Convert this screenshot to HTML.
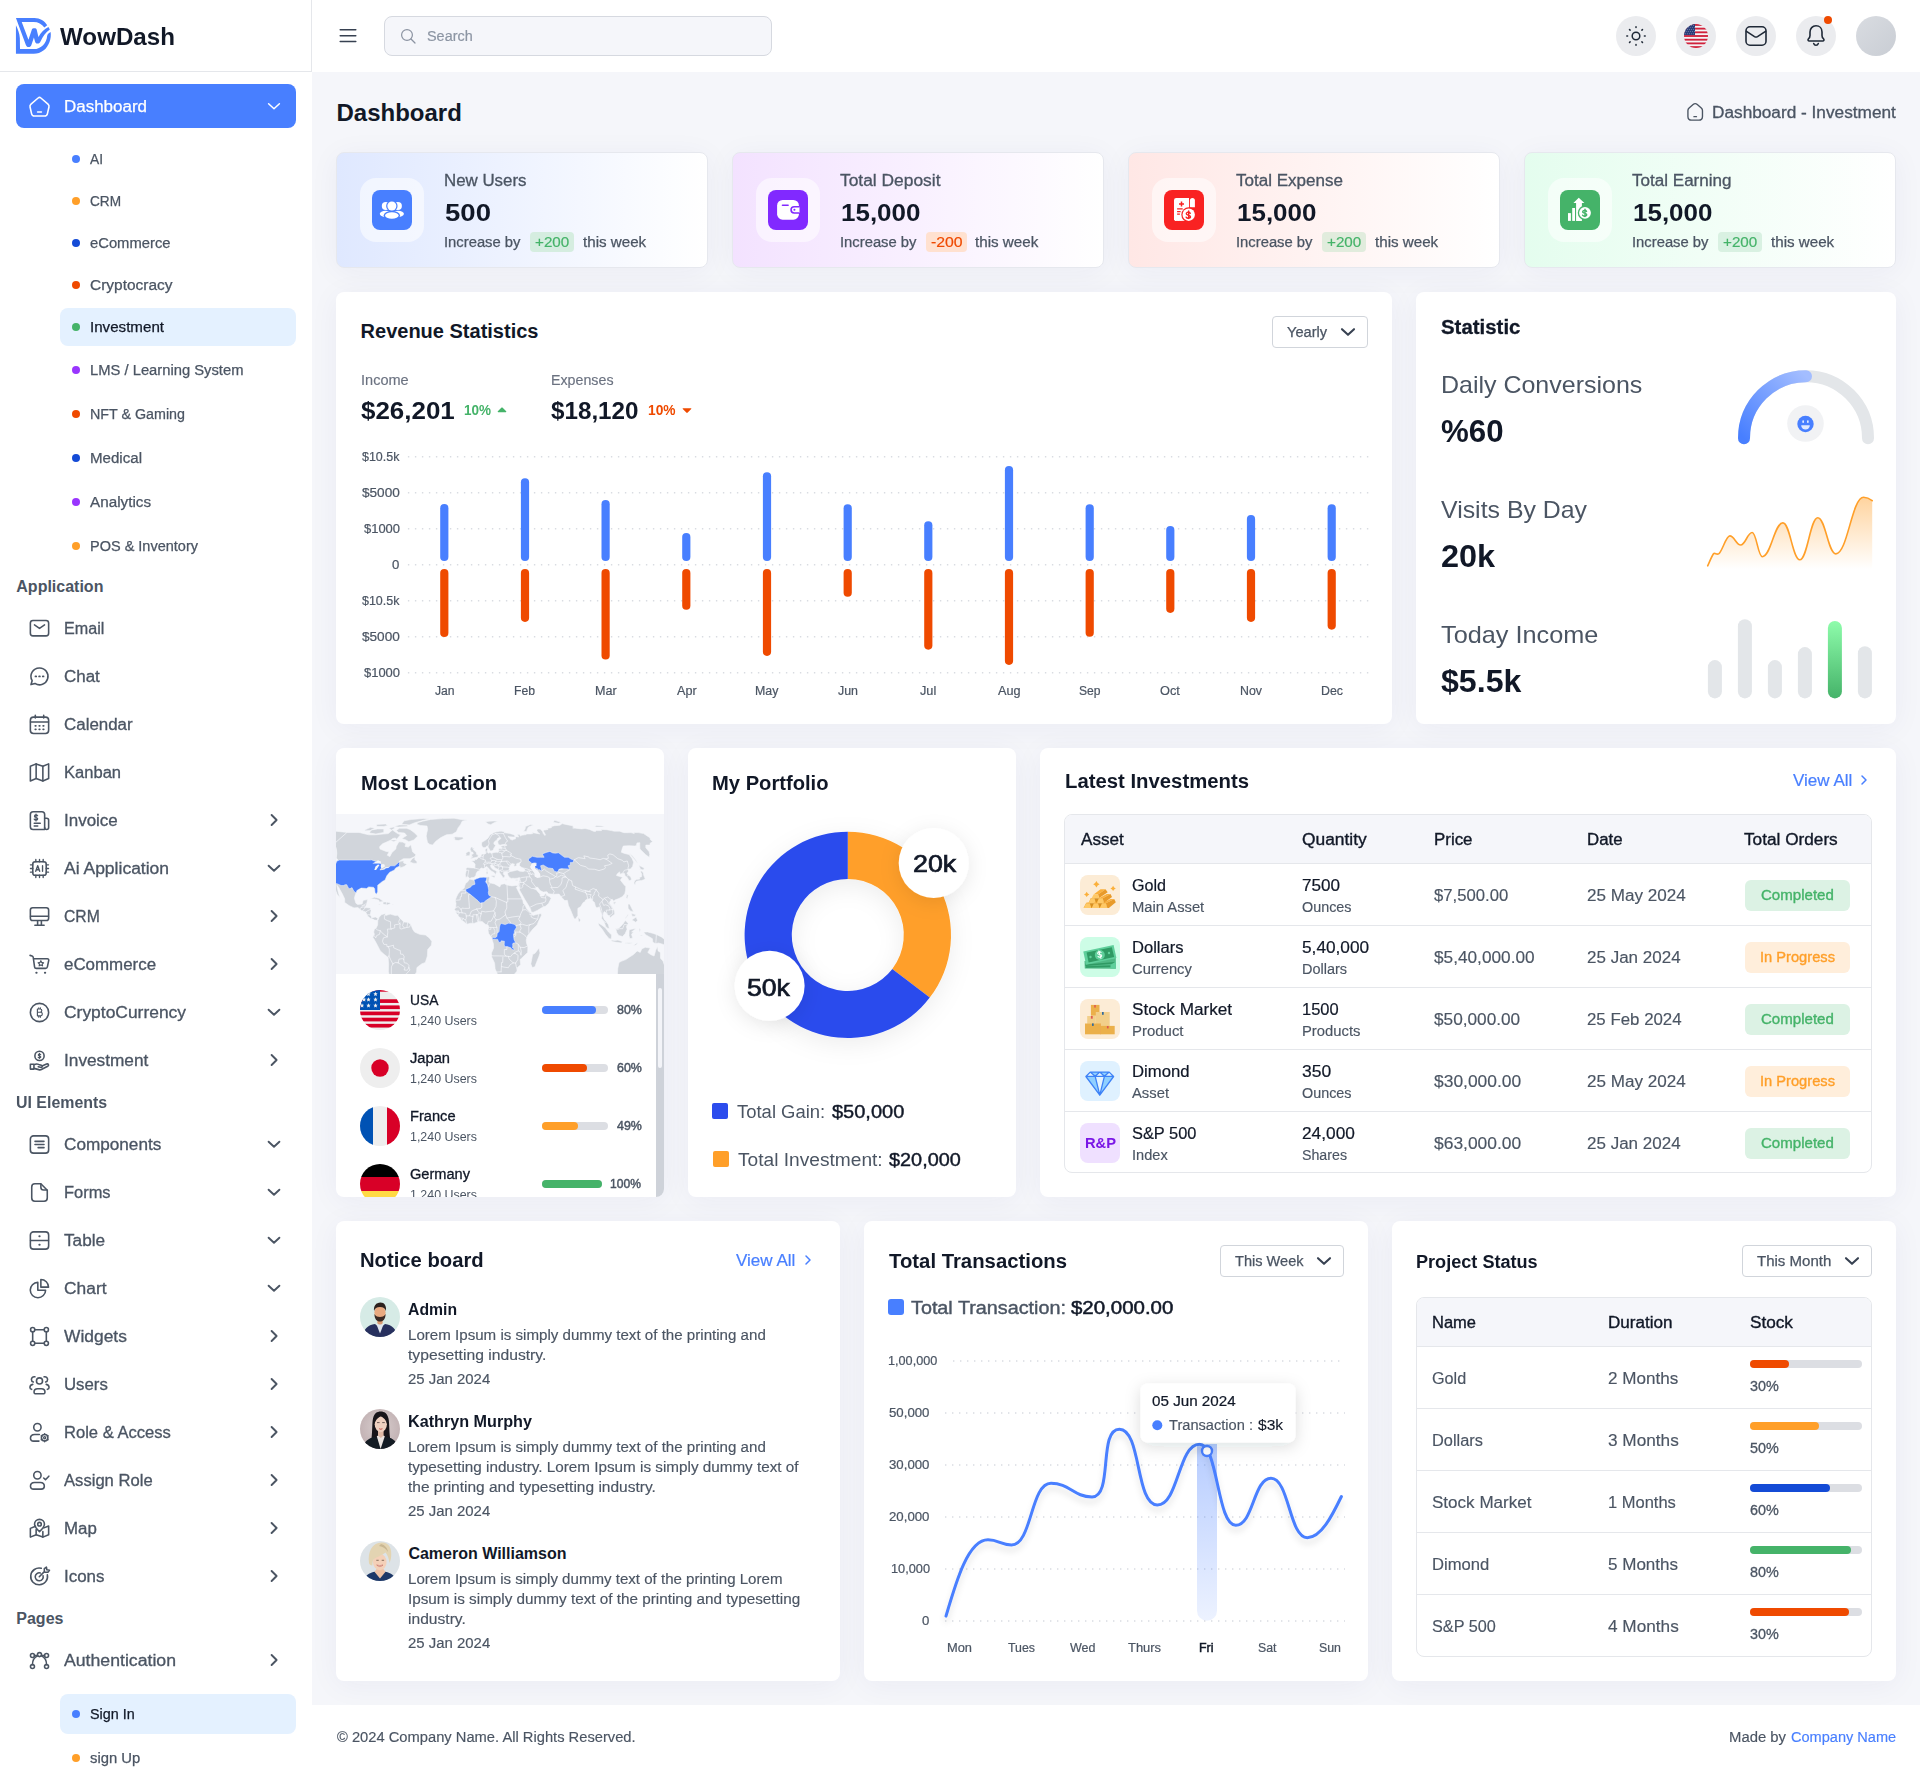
<!DOCTYPE html>
<html lang="en"><head><meta charset="utf-8"><title>WowDash - Investment Dashboard</title>
<meta name="viewport" content="width=1920">
<style>
*{box-sizing:border-box;margin:0;padding:0}
html,body{width:1920px;height:1769px;overflow:hidden}
body{font-family:"Liberation Sans",sans-serif;background:#f5f6fa;color:#4b5563;position:relative;font-size:16px;-webkit-font-smoothing:antialiased}
.t{position:absolute;white-space:nowrap;display:block}
.abs{position:absolute}
.card{position:absolute;background:#fff;border-radius:8px;box-shadow:0 4px 30px rgba(46,45,116,0.05)}
svg{position:absolute;overflow:visible}
.ic{fill:none;stroke:#4b5563;stroke-width:1.5;stroke-linecap:round;stroke-linejoin:round}
</style></head>
<body>
<!-- sidebar -->
<aside class="abs" style="left:0;top:0;width:312px;height:1769px;background:#fff"></aside><div class="abs" style="left:311px;top:0;width:1px;height:72px;background:#e5e7eb"></div>
<div class="abs" style="left:0;top:71px;width:312px;height:1px;background:#e5e7eb"></div>
<svg style="left:10px;top:10px" width="60" height="52" viewBox="0 0 1920 1664"><g fill="#487fff"><path d="M190 255L780 255C960 255 1110 350 1190 490L1100 560C1020 450 900 385 760 385L375 385L590 950L700 620C715 585 740 580 780 580C820 580 845 590 855 630L910 860C990 720 1100 610 1230 545L1275 620C1150 700 1050 830 980 1000C960 1050 930 1075 880 1075C830 1075 810 1050 800 1010L765 880L690 1100C670 1160 640 1185 595 1185C550 1185 525 1160 505 1110Z"/><path d="M190 490C250 620 310 760 315 900L320 1250L760 1250C1000 1250 1170 1050 1190 820C1200 770 1250 720 1300 700C1330 900 1250 1150 1080 1290C980 1370 880 1400 760 1400L190 1400Z"/></g></svg>
<span class="t " style="top:19.00px;font-size:24px;line-height:36px;color:#111827;font-weight:700;transform:scaleX(1.0067);left:60.00px;transform-origin:0 0;">WowDash</span>
<div class="abs" style="left:16px;top:84px;width:280px;height:44px;border-radius:8px;background:#487fff"></div>
<svg class="ic" style="left:29.3px;top:96.2px;stroke:#fff" width="21" height="21" viewBox="0 0 20 20"><path d="M8.700 1.900Q10 .8 11.300 1.900L18.100 7.700Q19.400 8.800 19 10.500L17.500 17Q17 19.100 14.900 19.100H5.100Q3 19.100 2.500 17L1 10.500Q.6 8.800 1.900 7.700Z"/><path d="M8.200 15.300h3.600"/></svg>
<span class="t " style="top:95.00px;font-size:16px;line-height:24px;color:#fff;transform:scaleX(1.0608);-webkit-text-stroke:0.25px #fff;left:64.30px;transform-origin:0 0;">Dashboard</span>
<svg class="ic" style="left:266px;top:98px;stroke:#fff;stroke-width:1.5" width="16" height="16" viewBox="0 0 16 16"><path d="M2.600 5.700L8 10.700l5.400-5"/></svg>
<div class="abs" style="left:72px;top:155px;width:8px;height:8px;border-radius:50%;background:#487fff"></div>
<span class="t " style="top:149.00px;font-size:14px;line-height:21px;color:#4b5563;transform:scaleX(0.9826);-webkit-text-stroke:0.25px #4b5563;left:90.20px;transform-origin:0 0;">AI</span>
<div class="abs" style="left:72px;top:197px;width:8px;height:8px;border-radius:50%;background:#ff9f29"></div>
<span class="t " style="top:191.00px;font-size:14px;line-height:21px;color:#4b5563;transform:scaleX(0.9733);-webkit-text-stroke:0.25px #4b5563;left:90.20px;transform-origin:0 0;">CRM</span>
<div class="abs" style="left:72px;top:239px;width:8px;height:8px;border-radius:50%;background:#144bd6"></div>
<span class="t " style="top:233.00px;font-size:14px;line-height:21px;color:#4b5563;transform:scaleX(1.0560);-webkit-text-stroke:0.25px #4b5563;left:90.20px;transform-origin:0 0;">eCommerce</span>
<div class="abs" style="left:72px;top:281px;width:8px;height:8px;border-radius:50%;background:#ef4a00"></div>
<span class="t " style="top:275.00px;font-size:14px;line-height:21px;color:#4b5563;transform:scaleX(1.1046);-webkit-text-stroke:0.25px #4b5563;left:90.20px;transform-origin:0 0;">Cryptocracy</span>
<div class="abs" style="left:60px;top:308px;width:236px;height:38px;border-radius:8px;background:#e4f1ff"></div>
<div class="abs" style="left:72px;top:323px;width:8px;height:8px;border-radius:50%;background:#45b369"></div>
<span class="t " style="top:317.00px;font-size:14px;line-height:21px;color:#111827;transform:scaleX(1.0809);-webkit-text-stroke:0.25px #111827;left:90.20px;transform-origin:0 0;">Investment</span>
<div class="abs" style="left:72px;top:366px;width:8px;height:8px;border-radius:50%;background:#9935fe"></div>
<span class="t " style="top:360.00px;font-size:14px;line-height:21px;color:#4b5563;transform:scaleX(1.0548);-webkit-text-stroke:0.25px #4b5563;left:90.20px;transform-origin:0 0;">LMS / Learning System</span>
<div class="abs" style="left:72px;top:410px;width:8px;height:8px;border-radius:50%;background:#ef4a00"></div>
<span class="t " style="top:404.00px;font-size:14px;line-height:21px;color:#4b5563;transform:scaleX(1.0204);-webkit-text-stroke:0.25px #4b5563;left:90.20px;transform-origin:0 0;">NFT &amp; Gaming</span>
<div class="abs" style="left:72px;top:454px;width:8px;height:8px;border-radius:50%;background:#144bd6"></div>
<span class="t " style="top:448.00px;font-size:14px;line-height:21px;color:#4b5563;transform:scaleX(1.0782);-webkit-text-stroke:0.25px #4b5563;left:90.20px;transform-origin:0 0;">Medical</span>
<div class="abs" style="left:72px;top:498px;width:8px;height:8px;border-radius:50%;background:#9935fe"></div>
<span class="t " style="top:492.00px;font-size:14px;line-height:21px;color:#4b5563;transform:scaleX(1.0893);-webkit-text-stroke:0.25px #4b5563;left:90.20px;transform-origin:0 0;">Analytics</span>
<div class="abs" style="left:72px;top:542px;width:8px;height:8px;border-radius:50%;background:#ff9f29"></div>
<span class="t " style="top:536.00px;font-size:14px;line-height:21px;color:#4b5563;transform:scaleX(1.0355);-webkit-text-stroke:0.25px #4b5563;left:90.20px;transform-origin:0 0;">POS &amp; Inventory</span>
<span class="t " style="top:575.00px;font-size:16px;line-height:24px;color:#4b5563;font-weight:700;left:16.30px;transform-origin:0 0;">Application</span>
<span class="t " style="top:1091.00px;font-size:16px;line-height:24px;color:#4b5563;font-weight:700;transform:scaleX(0.9956);left:16.30px;transform-origin:0 0;">UI Elements</span>
<span class="t " style="top:1607.00px;font-size:16px;line-height:24px;color:#4b5563;font-weight:700;left:16.30px;transform-origin:0 0;">Pages</span>
<svg class="ic" style="left:29.3px;top:618.2px;stroke:#4b5563" width="21" height="21" viewBox="0 0 20 20"><rect x="1.300" y="2.300" width="17.400" height="14.700" rx="2.500"/><path d="M5.200 6.600l4.800 3.300 4.800-3.300"/></svg>
<span class="t " style="top:617.00px;font-size:16px;line-height:24px;color:#4b5563;transform:scaleX(1.0075);-webkit-text-stroke:0.3px #4b5563;left:63.90px;transform-origin:0 0;">Email</span>
<svg class="ic" style="left:29.3px;top:666.2px;stroke:#4b5563" width="21" height="21" viewBox="0 0 20 20"><path d="M10 1.900a8 8 0 1 1-4.300 14.700L1.900 17.700l1.100-3.700A8 8 0 0 1 10 1.900z"/><path d="M6.200 9.900h.6M9.700 9.900h.6M13.200 9.900h.6" stroke-width="1.800"/></svg>
<span class="t " style="top:665.00px;font-size:16px;line-height:24px;color:#4b5563;transform:scaleX(1.0604);-webkit-text-stroke:0.3px #4b5563;left:63.90px;transform-origin:0 0;">Chat</span>
<svg class="ic" style="left:29.3px;top:714.2px;stroke:#4b5563" width="21" height="21" viewBox="0 0 20 20"><rect x="1.300" y="3" width="17.400" height="15.500" rx="3"/><path d="M1.500 7.600h17M6 1.200v2.600M14 1.200v2.600"/><path d="M6 11.300h.5M9.750 11.300h.5M13.500 11.300h.5M6 14.600h.5M9.750 14.600h.5M13.500 14.600h.5" stroke-width="1.700"/></svg>
<span class="t " style="top:713.00px;font-size:16px;line-height:24px;color:#4b5563;transform:scaleX(1.0576);-webkit-text-stroke:0.3px #4b5563;left:63.90px;transform-origin:0 0;">Calendar</span>
<svg class="ic" style="left:29.3px;top:762.2px;stroke:#4b5563" width="21" height="21" viewBox="0 0 20 20"><path d="M1.300 4.100l5.500-2.300 6.400 2.300 5.500-2.300v13.900l-5.500 2.300-6.400-2.300-5.500 2.300z"/><path d="M6.800 1.800v13.900M13.200 4.100v13.900"/></svg>
<span class="t " style="top:761.00px;font-size:16px;line-height:24px;color:#4b5563;transform:scaleX(1.0344);-webkit-text-stroke:0.3px #4b5563;left:63.90px;transform-origin:0 0;">Kanban</span>
<svg class="ic" style="left:29.3px;top:810.2px;stroke:#4b5563" width="21" height="21" viewBox="0 0 20 20"><path d="M1.300 4.200c0-1.700.9-2.600 2.600-2.600h8.400c1.700 0 2.600.9 2.600 2.600v14.300H3.900c-1.700 0-2.600-.9-2.600-2.600z"/><path d="M14.900 7.800h1.900c1.200 0 1.900.7 1.900 1.900v6.900c0 1.200-.8 1.900-1.900 1.900s-1.900-.7-1.900-1.900"/><path d="M5 12.600h5.700M5 15.300h3.300" /><path d="M8.200 5.500c-.3-.5-.8-.8-1.500-.8-.9 0-1.500.5-1.500 1.200 0 1.700 3.100.8 3.100 2.500 0 .7-.7 1.200-1.600 1.200-.8 0-1.400-.3-1.700-.9M6.700 3.900v6.500" stroke-width="1.200"/></svg>
<span class="t " style="top:809.00px;font-size:16px;line-height:24px;color:#4b5563;transform:scaleX(1.0607);-webkit-text-stroke:0.3px #4b5563;left:63.90px;transform-origin:0 0;">Invoice</span>
<svg class="ic" style="left:266px;top:812px;stroke:#4b5563;stroke-width:1.9" width="16" height="16" viewBox="0 0 16 16"><path d="M5.600 3l5 5-5 5"/></svg>
<svg class="ic" style="left:29.3px;top:858.2px;stroke:#4b5563" width="21" height="21" viewBox="0 0 20 20"><rect x="3.600" y="3.600" width="12.800" height="12.800" rx="2.200"/><path d="M6.500 1.400v2.200M10 1.400v2.200M13.500 1.400v2.200M6.500 16.400v2.200M10 16.400v2.200M13.500 16.400v2.200M1.400 6.500h2.200M1.400 10h2.200M1.400 13.500h2.200M16.400 6.500h2.200M16.400 10h2.200M16.400 13.500h2.200" stroke-width="1.300"/><path d="M6.400 12.700l1.900-5.400 1.900 5.400M7 11.200h2.600M12.900 7.300v5.400" stroke-width="1.300"/></svg>
<span class="t " style="top:857.00px;font-size:16px;line-height:24px;color:#4b5563;transform:scaleX(1.0939);-webkit-text-stroke:0.3px #4b5563;left:63.90px;transform-origin:0 0;">Ai Application</span>
<svg class="ic" style="left:266px;top:860px;stroke:#4b5563;stroke-width:1.9" width="16" height="16" viewBox="0 0 16 16"><path d="M2.600 5.700L8 10.700l5.400-5"/></svg>
<svg class="ic" style="left:29.3px;top:906.2px;stroke:#4b5563" width="21" height="21" viewBox="0 0 20 20"><rect x="1.300" y="1.600" width="17.400" height="12.200" rx="2.200"/><path d="M1.500 9.700h17M5.600 18.400h8.800M8.200 14v4.300M11.800 14v4.300"/></svg>
<span class="t " style="top:905.00px;font-size:16px;line-height:24px;color:#4b5563;transform:scaleX(0.9835);-webkit-text-stroke:0.3px #4b5563;left:63.90px;transform-origin:0 0;">CRM</span>
<svg class="ic" style="left:266px;top:908px;stroke:#4b5563;stroke-width:1.9" width="16" height="16" viewBox="0 0 16 16"><path d="M5.600 3l5 5-5 5"/></svg>
<svg class="ic" style="left:29.3px;top:954.2px;stroke:#4b5563" width="21" height="21" viewBox="0 0 20 20"><path d="M1 1.300l1.900.5c.6.200 1 .6 1.100 1.300l1.300 9.100c.1.900.8 1.500 1.700 1.500h8.800c.9 0 1.500-.5 1.700-1.400l1.300-6.300c.1-.9-.4-1.500-1.300-1.500H4.300"/><path d="M7 17.800h.2M15.200 17.800h.2" stroke-width="2"/><path d="M11.300 6.400l.8 1.600 1.800.3-1.300 1.200.3 1.800-1.600-.9-1.600.9.300-1.800L8.700 8.300l1.800-.3z" stroke-width="1.100"/></svg>
<span class="t " style="top:953.00px;font-size:16px;line-height:24px;color:#4b5563;transform:scaleX(1.0572);-webkit-text-stroke:0.3px #4b5563;left:63.90px;transform-origin:0 0;">eCommerce</span>
<svg class="ic" style="left:266px;top:956px;stroke:#4b5563;stroke-width:1.9" width="16" height="16" viewBox="0 0 16 16"><path d="M5.600 3l5 5-5 5"/></svg>
<svg class="ic" style="left:29.3px;top:1002.2px;stroke:#4b5563" width="21" height="21" viewBox="0 0 20 20"><circle cx="10" cy="10" r="8.700"/><path d="M8 6.700h2.600c1 0 1.600.6 1.600 1.500S11.600 9.800 10.600 9.800H8zM8 9.800h3c1 0 1.700.7 1.700 1.700s-.7 1.700-1.700 1.700H8zM9.300 5.500v1.200M9.300 13.300v1.200M10.900 5.500v1.200M10.900 13.300v1.200" stroke-width="1.100"/></svg>
<span class="t " style="top:1001.00px;font-size:16px;line-height:24px;color:#4b5563;transform:scaleX(1.0893);-webkit-text-stroke:0.3px #4b5563;left:63.90px;transform-origin:0 0;">CryptoCurrency</span>
<svg class="ic" style="left:266px;top:1004px;stroke:#4b5563;stroke-width:1.9" width="16" height="16" viewBox="0 0 16 16"><path d="M2.600 5.700L8 10.700l5.400-5"/></svg>
<svg class="ic" style="left:29.3px;top:1050.2px;stroke:#4b5563" width="21" height="21" viewBox="0 0 20 20"><circle cx="10" cy="5.600" r="4.400"/><path d="M11.200 4.500c-.2-.4-.6-.6-1.200-.6-.7 0-1.200.4-1.200.9 0 1.300 2.500.6 2.500 1.900 0 .5-.5.900-1.300.9-.6 0-1.100-.2-1.300-.7M10 3.200v4.900" stroke-width="1"/><path d="M1.300 13.600h3.400v4.600H1.300zM4.700 14.200c1.500-1 3-1.200 4.500-.5l2.500.9c.8.300 1 .9.800 1.400-.3.600-.9.700-1.600.5l-2.100-.6"/><path d="M12.400 15.200l4.300-1.800c.8-.3 1.500-.1 1.800.5.300.6 0 1.200-.7 1.600l-6 3.100c-.8.400-1.600.4-2.500.1l-4.600-1.200"/></svg>
<span class="t " style="top:1049.00px;font-size:16px;line-height:24px;color:#4b5563;transform:scaleX(1.0775);-webkit-text-stroke:0.3px #4b5563;left:63.90px;transform-origin:0 0;">Investment</span>
<svg class="ic" style="left:266px;top:1052px;stroke:#4b5563;stroke-width:1.9" width="16" height="16" viewBox="0 0 16 16"><path d="M5.600 3l5 5-5 5"/></svg>
<svg class="ic" style="left:29.3px;top:1134.2px;stroke:#4b5563" width="21" height="21" viewBox="0 0 20 20"><rect x="1.300" y="1.800" width="17.400" height="16.400" rx="3"/><path d="M5.700 7h8.600M5.700 10h8.600M8.700 13h5.600"/></svg>
<span class="t " style="top:1133.00px;font-size:16px;line-height:24px;color:#4b5563;transform:scaleX(1.0725);-webkit-text-stroke:0.3px #4b5563;left:63.90px;transform-origin:0 0;">Components</span>
<svg class="ic" style="left:266px;top:1136px;stroke:#4b5563;stroke-width:1.9" width="16" height="16" viewBox="0 0 16 16"><path d="M2.600 5.700L8 10.700l5.400-5"/></svg>
<svg class="ic" style="left:29.3px;top:1182.2px;stroke:#4b5563" width="21" height="21" viewBox="0 0 20 20"><path d="M2.600 4.700c0-2 1-3 3-3h5.700l6.100 6.100v7.500c0 2-1 3-3 3H5.600c-2 0-3-1-3-3z"/><path d="M11.300 1.900v3.200c0 1.700.9 2.600 2.600 2.600h3.300"/></svg>
<span class="t " style="top:1181.00px;font-size:16px;line-height:24px;color:#4b5563;transform:scaleX(1.0273);-webkit-text-stroke:0.3px #4b5563;left:63.90px;transform-origin:0 0;">Forms</span>
<svg class="ic" style="left:266px;top:1184px;stroke:#4b5563;stroke-width:1.9" width="16" height="16" viewBox="0 0 16 16"><path d="M2.600 5.700L8 10.700l5.400-5"/></svg>
<svg class="ic" style="left:29.3px;top:1230.2px;stroke:#4b5563" width="21" height="21" viewBox="0 0 20 20"><rect x="1.300" y="1.800" width="17.400" height="16.400" rx="3"/><path d="M1.500 10h17"/><path d="M9.900 5.900h.2M9.900 14.100h.2" stroke-width="2"/></svg>
<span class="t " style="top:1229.00px;font-size:16px;line-height:24px;color:#4b5563;transform:scaleX(1.0748);-webkit-text-stroke:0.3px #4b5563;left:63.90px;transform-origin:0 0;">Table</span>
<svg class="ic" style="left:266px;top:1232px;stroke:#4b5563;stroke-width:1.9" width="16" height="16" viewBox="0 0 16 16"><path d="M2.600 5.700L8 10.700l5.400-5"/></svg>
<svg class="ic" style="left:29.3px;top:1278.2px;stroke:#4b5563" width="21" height="21" viewBox="0 0 20 20"><path d="M8.400 4.200a7.300 7.300 0 1 0 7.400 7.400H8.400z"/><path d="M11.300 1.400v7.300h7.300a7.300 7.300 0 0 0-7.300-7.300z"/></svg>
<span class="t " style="top:1277.00px;font-size:16px;line-height:24px;color:#4b5563;transform:scaleX(1.0864);-webkit-text-stroke:0.3px #4b5563;left:63.90px;transform-origin:0 0;">Chart</span>
<svg class="ic" style="left:266px;top:1280px;stroke:#4b5563;stroke-width:1.9" width="16" height="16" viewBox="0 0 16 16"><path d="M2.600 5.700L8 10.700l5.400-5"/></svg>
<svg class="ic" style="left:29.3px;top:1326.2px;stroke:#4b5563" width="21" height="21" viewBox="0 0 20 20"><rect x="3.500" y="3.500" width="13" height="13"/><circle cx="3.500" cy="3.500" r="2" fill="#fff"/><circle cx="16.500" cy="3.500" r="2" fill="#fff"/><circle cx="3.500" cy="16.500" r="2" fill="#fff"/><circle cx="16.500" cy="16.500" r="2" fill="#fff"/></svg>
<span class="t " style="top:1325.00px;font-size:16px;line-height:24px;color:#4b5563;transform:scaleX(1.0873);-webkit-text-stroke:0.3px #4b5563;left:63.90px;transform-origin:0 0;">Widgets</span>
<svg class="ic" style="left:266px;top:1328px;stroke:#4b5563;stroke-width:1.9" width="16" height="16" viewBox="0 0 16 16"><path d="M5.600 3l5 5-5 5"/></svg>
<svg class="ic" style="left:29.3px;top:1374.2px;stroke:#4b5563" width="21" height="21" viewBox="0 0 20 20"><circle cx="10" cy="6.600" r="2.900"/><path d="M4.800 17.200c0-2.100 1.300-3.200 3.400-3.200h3.600c2.100 0 3.400 1.100 3.400 3.200s-1.300 1.600-3.400 1.600H8.200c-2.100 0-3.400.5-3.400-1.600z"/><path d="M5.600 2.700c-1.900-.4-3.300.8-3.300 2.500 0 1.200.7 2.100 1.800 2.400M3.600 9.900c-1.600.3-2.700 1.400-2.700 3 0 .9.600 1.500 1.600 1.700M14.400 2.700c1.900-.4 3.300.8 3.300 2.500 0 1.200-.7 2.100-1.800 2.400M16.400 9.900c1.600.3 2.700 1.400 2.700 3 0 .9-.6 1.500-1.600 1.700"/></svg>
<span class="t " style="top:1373.00px;font-size:16px;line-height:24px;color:#4b5563;transform:scaleX(1.0489);-webkit-text-stroke:0.3px #4b5563;left:63.90px;transform-origin:0 0;">Users</span>
<svg class="ic" style="left:266px;top:1376px;stroke:#4b5563;stroke-width:1.9" width="16" height="16" viewBox="0 0 16 16"><path d="M5.600 3l5 5-5 5"/></svg>
<svg class="ic" style="left:29.3px;top:1422.2px;stroke:#4b5563" width="21" height="21" viewBox="0 0 20 20"><circle cx="8" cy="5" r="3.500"/><path d="M9.500 18.200H4.300c-1.800 0-2.900-1-2.900-2.700 0-2.100 1.700-3.600 4-3.600h4.500"/><circle cx="14.900" cy="15" r="3.100"/><circle cx="14.900" cy="15" r="1" stroke-width="1.200"/><path d="M14.900 11.200v.8M14.900 18v.8M11.600 13.100l.7.400M17.500 16.500l.7.400M11.600 16.900l.7-.4M17.500 13.500l.7-.4" stroke-width="1.300"/></svg>
<span class="t " style="top:1421.00px;font-size:16px;line-height:24px;color:#4b5563;transform:scaleX(1.0357);-webkit-text-stroke:0.3px #4b5563;left:63.90px;transform-origin:0 0;">Role &amp; Access</span>
<svg class="ic" style="left:266px;top:1424px;stroke:#4b5563;stroke-width:1.9" width="16" height="16" viewBox="0 0 16 16"><path d="M5.600 3l5 5-5 5"/></svg>
<svg class="ic" style="left:29.3px;top:1470.2px;stroke:#4b5563" width="21" height="21" viewBox="0 0 20 20"><circle cx="8" cy="5" r="3.500"/><path d="M1.400 15.500c0-2.100 1.600-3.600 3.800-3.600h5.600c2.200 0 3.800 1.500 3.800 3.600 0 1.700-1.100 2.700-2.900 2.700H4.300c-1.800 0-2.900-1-2.900-2.700z"/><path d="M14 7.600l1.700 1.700 3.200-3.400"/></svg>
<span class="t " style="top:1469.00px;font-size:16px;line-height:24px;color:#4b5563;transform:scaleX(1.0380);-webkit-text-stroke:0.3px #4b5563;left:63.90px;transform-origin:0 0;">Assign Role</span>
<svg class="ic" style="left:266px;top:1472px;stroke:#4b5563;stroke-width:1.9" width="16" height="16" viewBox="0 0 16 16"><path d="M5.600 3l5 5-5 5"/></svg>
<svg class="ic" style="left:29.3px;top:1518.2px;stroke:#4b5563" width="21" height="21" viewBox="0 0 20 20"><path d="M6.200 7.800L1.300 9.900v8.300l5.500-2.300 6.400 2.300 5.500-2.300V7.600l-4.500 1.800"/><path d="M6.800 11v4.900M13.200 13v5.200"/><path d="M10 1.300c2.700 0 4.700 2 4.700 4.500 0 2.400-1.700 4.500-4.700 7.200-3-2.700-4.700-4.800-4.700-7.200 0-2.500 2-4.500 4.700-4.500z"/><circle cx="10" cy="5.900" r="1.700"/></svg>
<span class="t " style="top:1517.00px;font-size:16px;line-height:24px;color:#4b5563;transform:scaleX(1.0540);-webkit-text-stroke:0.3px #4b5563;left:63.90px;transform-origin:0 0;">Map</span>
<svg class="ic" style="left:266px;top:1520px;stroke:#4b5563;stroke-width:1.9" width="16" height="16" viewBox="0 0 16 16"><path d="M5.600 3l5 5-5 5"/></svg>
<svg class="ic" style="left:29.3px;top:1566.2px;stroke:#4b5563" width="21" height="21" viewBox="0 0 20 20"><path d="M17.500 8.400a8 8 0 1 1-5.800-6.200"/><path d="M13.400 9.300a3.800 3.800 0 1 1-2.700-2.700"/><path d="M9.800 10.200l4.800-4.800M14.600 5.400V2.600l2-1.500.4 2.500 2.500.4-1.500 2h-2.800z"/></svg>
<span class="t " style="top:1565.00px;font-size:16px;line-height:24px;color:#4b5563;transform:scaleX(1.0565);-webkit-text-stroke:0.3px #4b5563;left:63.90px;transform-origin:0 0;">Icons</span>
<svg class="ic" style="left:266px;top:1568px;stroke:#4b5563;stroke-width:1.9" width="16" height="16" viewBox="0 0 16 16"><path d="M5.600 3l5 5-5 5"/></svg>
<svg class="ic" style="left:29.3px;top:1650.2px;stroke:#4b5563" width="21" height="21" viewBox="0 0 20 20"><circle cx="3.300" cy="5.300" r="1.900"/><circle cx="16.700" cy="5.300" r="1.900"/><circle cx="3.300" cy="15.800" r="1.900"/><circle cx="16.700" cy="15.800" r="1.900"/><circle cx="10" cy="4.400" r="1.900"/><path d="M5.200 5.300h2.900M11.900 5.300h2.900M3.300 13.900c0-3.900 1.800-7 5-8.300M16.700 13.900c0-3.900-1.800-7-5-8.300"/></svg>
<span class="t " style="top:1649.00px;font-size:16px;line-height:24px;color:#4b5563;transform:scaleX(1.1041);-webkit-text-stroke:0.3px #4b5563;left:63.90px;transform-origin:0 0;">Authentication</span>
<svg class="ic" style="left:266px;top:1652px;stroke:#4b5563;stroke-width:1.9" width="16" height="16" viewBox="0 0 16 16"><path d="M5.600 3l5 5-5 5"/></svg>
<div class="abs" style="left:60px;top:1694px;width:236px;height:40px;border-radius:8px;background:#e4f1ff"></div>
<div class="abs" style="left:72px;top:1710px;width:8px;height:8px;border-radius:50%;background:#487fff"></div>
<span class="t " style="top:1704.00px;font-size:14px;line-height:21px;color:#111827;transform:scaleX(1.0250);-webkit-text-stroke:0.25px #111827;left:90.20px;transform-origin:0 0;">Sign In</span>
<div class="abs" style="left:72px;top:1754px;width:8px;height:8px;border-radius:50%;background:#ff9f29"></div>
<span class="t " style="top:1748.00px;font-size:14px;line-height:21px;color:#4b5563;transform:scaleX(1.0577);-webkit-text-stroke:0.25px #4b5563;left:90.20px;transform-origin:0 0;">sign Up</span>
<!-- header -->
<header class="abs" style="left:312px;top:0;width:1608px;height:72px;background:#fff"></header>
<svg style="left:339px;top:26px" width="18" height="20" viewBox="0 0 18 20"><path d="M1.200 3.800h15.600M1.200 9.800h15.600M1.200 15.600h15.600" stroke="#374151" stroke-width="1.500" stroke-linecap="round" fill="none"/></svg>
<div class="abs" style="left:384px;top:16px;width:388px;height:40px;border:1px solid #d6d9e0;border-radius:8px;background:#f5f6fa"></div>
<svg style="left:400px;top:28px" width="16" height="16" viewBox="0 0 16 16"><circle cx="7" cy="7" r="5.400" stroke="#8b93a1" stroke-width="1.200" fill="none"/><path d="M11 11l4 4" stroke="#8b93a1" stroke-width="1.200" stroke-linecap="round"/></svg>
<span class="t " style="top:26.00px;font-size:14px;line-height:21px;color:#8c95a3;transform:scaleX(1.0297);-webkit-text-stroke:0.2px #8c95a3;left:426.80px;transform-origin:0 0;">Search</span>
<div class="abs" style="left:1616px;top:16px;width:40px;height:40px;border-radius:50%;background:#ebecef"></div>
<div class="abs" style="left:1676px;top:16px;width:40px;height:40px;border-radius:50%;background:#ebecef"></div>
<div class="abs" style="left:1736px;top:16px;width:40px;height:40px;border-radius:50%;background:#ebecef"></div>
<div class="abs" style="left:1796px;top:16px;width:40px;height:40px;border-radius:50%;background:#ebecef"></div>
<div class="abs" style="left:1856px;top:16px;width:40px;height:40px;border-radius:50%;background:linear-gradient(135deg,#d9dce1,#c9cdd4)"></div>
<svg style="left:1625px;top:25px" width="22" height="22" viewBox="0 0 22 22" fill="none" stroke="#1f2937" stroke-width="1.500" stroke-linecap="round"><circle cx="11" cy="11" r="3.800"/><path d="M11 1.800v.8M11 19.400v.8M1.800 11h.8M19.400 11h.8M4.500 4.500l.6.600M16.900 16.900l.6.600M4.500 17.500l.6-.6M16.900 5.100l.6-.6"/></svg>
<svg style="left:1684px;top:24px" width="24" height="24" viewBox="0 0 24 24"><defs><clipPath id="fc1"><circle cx="12" cy="12" r="12"/></clipPath></defs><g clip-path="url(#fc1)"><rect width="24" height="24" fill="#f4f4f6"/><rect x="0" y="0.00" width="24" height="1.850" fill="#d0223c"/><rect x="0" y="3.69" width="24" height="1.850" fill="#d0223c"/><rect x="0" y="7.38" width="24" height="1.850" fill="#d0223c"/><rect x="0" y="11.08" width="24" height="1.850" fill="#d0223c"/><rect x="0" y="14.77" width="24" height="1.850" fill="#d0223c"/><rect x="0" y="18.46" width="24" height="1.850" fill="#d0223c"/><rect x="0" y="22.15" width="24" height="1.850" fill="#d0223c"/><rect x="0" y="0" width="11" height="11.100" fill="#2b3f7a"/><circle cx="1.3" cy="1.4" r="0.350" fill="#e8eaf3"/><circle cx="3.4" cy="1.4" r="0.350" fill="#e8eaf3"/><circle cx="5.5" cy="1.4" r="0.350" fill="#e8eaf3"/><circle cx="7.6" cy="1.4" r="0.350" fill="#e8eaf3"/><circle cx="9.7" cy="1.4" r="0.350" fill="#e8eaf3"/><circle cx="2.1" cy="3.5" r="0.350" fill="#e8eaf3"/><circle cx="4.2" cy="3.5" r="0.350" fill="#e8eaf3"/><circle cx="6.3" cy="3.5" r="0.350" fill="#e8eaf3"/><circle cx="8.4" cy="3.5" r="0.350" fill="#e8eaf3"/><circle cx="10.5" cy="3.5" r="0.350" fill="#e8eaf3"/><circle cx="1.3" cy="5.6" r="0.350" fill="#e8eaf3"/><circle cx="3.4" cy="5.6" r="0.350" fill="#e8eaf3"/><circle cx="5.5" cy="5.6" r="0.350" fill="#e8eaf3"/><circle cx="7.6" cy="5.6" r="0.350" fill="#e8eaf3"/><circle cx="9.7" cy="5.6" r="0.350" fill="#e8eaf3"/><circle cx="2.1" cy="7.7" r="0.350" fill="#e8eaf3"/><circle cx="4.2" cy="7.7" r="0.350" fill="#e8eaf3"/><circle cx="6.3" cy="7.7" r="0.350" fill="#e8eaf3"/><circle cx="8.4" cy="7.7" r="0.350" fill="#e8eaf3"/><circle cx="10.5" cy="7.7" r="0.350" fill="#e8eaf3"/><circle cx="1.3" cy="9.8" r="0.350" fill="#e8eaf3"/><circle cx="3.4" cy="9.8" r="0.350" fill="#e8eaf3"/><circle cx="5.5" cy="9.8" r="0.350" fill="#e8eaf3"/><circle cx="7.6" cy="9.8" r="0.350" fill="#e8eaf3"/><circle cx="9.7" cy="9.8" r="0.350" fill="#e8eaf3"/></g></svg>
<svg style="left:1745px;top:25px" width="22" height="22" viewBox="0 0 22 22" fill="none" stroke="#1f2937" stroke-width="1.600" stroke-linecap="round" stroke-linejoin="round"><rect x="1" y="1.800" width="20" height="18.400" rx="4"/><path d="M1.500 6.400l8 5.200c1 .6 2 .6 3 0l8-5.200"/></svg>
<svg style="left:1805px;top:24px" width="22" height="24" viewBox="0 0 22 24" fill="none" stroke="#1f2937" stroke-width="1.600" stroke-linecap="round" stroke-linejoin="round"><path d="M11 1.800c-3.600 0-6 2.700-6 6.200v3.400c0 1.300-.5 2.400-1.500 3.400-.8.800-.6 2.200.9 2.200h13.200c1.500 0 1.700-1.400.9-2.200-1-1-1.500-2.100-1.500-3.400V8c0-3.500-2.400-6.200-6-6.200z"/><path d="M8.700 19.600c.4 1.100 1.200 1.700 2.300 1.700s1.900-.6 2.300-1.700"/></svg>
<div class="abs" style="left:1824px;top:16px;width:8px;height:8px;border-radius:50%;background:#ef4a00"></div>
<span class="t " style="top:95.00px;font-size:24px;line-height:36px;color:#111827;font-weight:700;left:336.50px;transform-origin:0 0;">Dashboard</span>
<svg class="ic" style="left:1686.800px;top:102.900px;stroke-width:1.500" width="16.400" height="18.200" viewBox="0 0 18 20"><path d="M1 8.300c0-1.200.4-1.900 1.300-2.700l4.400-3.900c1.400-1.200 3.200-1.200 4.600 0l4.400 3.900c.9.800 1.300 1.500 1.300 2.700v6.500c0 2.700-1.400 4.100-4.100 4.100H5.100C2.400 18.900 1 17.500 1 14.800z"/><path d="M7.600 15h2.800"/></svg>
<span class="t " style="top:101.00px;font-size:16px;line-height:24px;color:#4b5563;transform:scaleX(1.0766);-webkit-text-stroke:0.3px #4b5563;left:1712.00px;transform-origin:0 0;">Dashboard - Investment</span>
<!-- stats -->
<div class="abs" style="left:336px;top:152px;width:372px;height:116px;border-radius:8px;border:1px solid #e6e8ee;background:linear-gradient(90deg,#dfe8ff 0%,#fff 100%);box-shadow:0 4px 30px rgba(46,45,116,0.05)"></div>
<div class="abs" style="left:360px;top:178px;width:64px;height:64px;border-radius:16px;background:rgba(255,255,255,0.55)"></div>
<div class="abs" style="left:372px;top:190px;width:40px;height:40px;border-radius:8px;background:#487fff"></div>
<svg style="left:380px;top:198px" width="24" height="24" viewBox="0 0 24 24"><g fill="#fff"><circle cx="5.800" cy="8" r="4"/><circle cx="17.900" cy="8" r="4"/><ellipse cx="5.500" cy="15.800" rx="5.700" ry="3"/><ellipse cx="18.200" cy="15.800" rx="5.700" ry="3"/></g><g fill="#487fff"><circle cx="11.850" cy="8" r="5.700"/><ellipse cx="11.850" cy="17.500" rx="8.200" ry="4.600"/></g><g fill="#fff"><circle cx="11.850" cy="8" r="4.500"/><ellipse cx="11.850" cy="17.500" rx="6.800" ry="3.200"/></g></svg>
<span class="t " style="top:169.00px;font-size:16px;line-height:24px;color:#4b5563;transform:scaleX(1.0544);-webkit-text-stroke:0.3px #4b5563;left:444.30px;transform-origin:0 0;">New Users</span>
<span class="t " style="top:195.00px;font-size:24px;line-height:36px;color:#111827;font-weight:700;transform:scaleX(1.1477);left:444.50px;transform-origin:0 0;">500</span>
<span class="t " style="top:232.00px;font-size:14px;line-height:21px;color:#4b5563;transform:scaleX(1.0569);-webkit-text-stroke:0.25px #4b5563;left:444.30px;transform-origin:0 0;">Increase by</span>
<div class="abs" style="left:530px;top:232px;width:44px;height:20px;border-radius:4px;background:#d5ede0"></div>
<span class="t " style="top:232.00px;font-size:14px;line-height:21px;color:#45b369;transform:scaleX(1.0865);-webkit-text-stroke:0.2px #45b369;left:535.00px;transform-origin:0 0;">+200</span>
<span class="t " style="top:232.00px;font-size:14px;line-height:21px;color:#4b5563;transform:scaleX(1.0830);-webkit-text-stroke:0.25px #4b5563;left:582.50px;transform-origin:0 0;">this week</span>
<div class="abs" style="left:732px;top:152px;width:372px;height:116px;border-radius:8px;border:1px solid #e6e8ee;background:linear-gradient(90deg,#f3e2ff 0%,#fff 100%);box-shadow:0 4px 30px rgba(46,45,116,0.05)"></div>
<div class="abs" style="left:756px;top:178px;width:64px;height:64px;border-radius:16px;background:rgba(255,255,255,0.55)"></div>
<div class="abs" style="left:768px;top:190px;width:40px;height:40px;border-radius:8px;background:#8129ff"></div>
<svg style="left:776px;top:198px" width="24" height="24" viewBox="0 0 24 24"><rect x="1.100" y="2" width="21.800" height="19.700" rx="5.500" fill="#fff"/><path d="M6.500 7.200h5.600" stroke="#8129ff" stroke-width="1.600" stroke-linecap="round"/><path d="M23.500 8.700H18.200a3.150 3.150 0 0 0 0 6.300H23.500" fill="#fff" stroke="#8129ff" stroke-width="1.600"/><circle cx="18.400" cy="11.800" r="1.050" fill="#8129ff"/></svg>
<span class="t " style="top:169.00px;font-size:16px;line-height:24px;color:#4b5563;transform:scaleX(1.0867);-webkit-text-stroke:0.3px #4b5563;left:840.30px;transform-origin:0 0;">Total Deposit</span>
<span class="t " style="top:195.00px;font-size:24px;line-height:36px;color:#111827;font-weight:700;transform:scaleX(1.0825);left:840.50px;transform-origin:0 0;">15,000</span>
<span class="t " style="top:232.00px;font-size:14px;line-height:21px;color:#4b5563;transform:scaleX(1.0569);-webkit-text-stroke:0.25px #4b5563;left:840.30px;transform-origin:0 0;">Increase by</span>
<div class="abs" style="left:926px;top:232px;width:41px;height:20px;border-radius:4px;background:#ffe1d0"></div>
<span class="t " style="top:232.00px;font-size:14px;line-height:21px;color:#ef4a00;transform:scaleX(1.1286);-webkit-text-stroke:0.2px #ef4a00;left:930.70px;transform-origin:0 0;">-200</span>
<span class="t " style="top:232.00px;font-size:14px;line-height:21px;color:#4b5563;transform:scaleX(1.0847);-webkit-text-stroke:0.25px #4b5563;left:975.30px;transform-origin:0 0;">this week</span>
<div class="abs" style="left:1128px;top:152px;width:372px;height:116px;border-radius:8px;border:1px solid #e6e8ee;background:linear-gradient(90deg,#ffe7e5 0%,#fff 100%);box-shadow:0 4px 30px rgba(46,45,116,0.05)"></div>
<div class="abs" style="left:1152px;top:178px;width:64px;height:64px;border-radius:16px;background:rgba(255,255,255,0.55)"></div>
<div class="abs" style="left:1164px;top:190px;width:40px;height:40px;border-radius:8px;background:#f92222"></div>
<svg style="left:1172px;top:198px" width="24" height="24" viewBox="0 0 24 24"><path d="M2 2.200Q2 0 4.200 0H17V12.500L9 22.900L7.800 22.100 6.400 22.900 5 22.100 3.600 22.900 2 22.100Z" fill="#fff"/><path d="M3 14H17V22.900H3z" fill="#fff"/><path d="M17.900 9.300V2.500Q17.900 0 20.400 0T22.900 2.500V9.300Z" fill="#fff"/><circle cx="16.700" cy="16.700" r="7.400" fill="#f92222"/><circle cx="16.700" cy="16.700" r="6.200" fill="#fff"/><path d="M7 6.100h5M9.500 3.600v5" stroke="#f92222" stroke-width="1.500"/><path d="M5.100 10.800h5.600M5.100 13.550h3.500M5.100 16.200h2.800" stroke="#f92222" stroke-width="1.300"/><path d="M18.31 15.27c-0.65-1.04-1.82-1.43-2.99-0.91-1.43.78-1.30 1.95.13 2.47l1.95.72c1.56.57 1.43 2.08-.13 2.55-1.30.39-2.47.07-3.12-.98M16.7 12.93v7.54" stroke="#f92222" stroke-width="1.4" fill="none" stroke-linecap="round" stroke-linejoin="round"/></svg>
<span class="t " style="top:169.00px;font-size:16px;line-height:24px;color:#4b5563;transform:scaleX(1.0649);-webkit-text-stroke:0.3px #4b5563;left:1236.30px;transform-origin:0 0;">Total Expense</span>
<span class="t " style="top:195.00px;font-size:24px;line-height:36px;color:#111827;font-weight:700;transform:scaleX(1.0825);left:1236.50px;transform-origin:0 0;">15,000</span>
<span class="t " style="top:232.00px;font-size:14px;line-height:21px;color:#4b5563;transform:scaleX(1.0569);-webkit-text-stroke:0.25px #4b5563;left:1236.30px;transform-origin:0 0;">Increase by</span>
<div class="abs" style="left:1322px;top:232px;width:44px;height:20px;border-radius:4px;background:#e1ecdd"></div>
<span class="t " style="top:232.00px;font-size:14px;line-height:21px;color:#45b369;transform:scaleX(1.0865);-webkit-text-stroke:0.2px #45b369;left:1327.00px;transform-origin:0 0;">+200</span>
<span class="t " style="top:232.00px;font-size:14px;line-height:21px;color:#4b5563;transform:scaleX(1.0830);-webkit-text-stroke:0.25px #4b5563;left:1374.50px;transform-origin:0 0;">this week</span>
<div class="abs" style="left:1524px;top:152px;width:372px;height:116px;border-radius:8px;border:1px solid #e6e8ee;background:linear-gradient(90deg,#e4fdee 0%,#fff 100%);box-shadow:0 4px 30px rgba(46,45,116,0.05)"></div>
<div class="abs" style="left:1548px;top:178px;width:64px;height:64px;border-radius:16px;background:rgba(255,255,255,0.55)"></div>
<div class="abs" style="left:1560px;top:190px;width:40px;height:40px;border-radius:8px;background:#45b369"></div>
<svg style="left:1568px;top:198px" width="24" height="24" viewBox="0 0 24 24"><rect x="0" y="15.100" width="2.900" height="7.800" fill="#fff"/><rect x="4.200" y="10" width="2.800" height="12.900" fill="#fff"/><path d="M8.100 22.900V5.100H5.400L10.750 -.2 16.400 5.100H13.900V22.900Z" fill="#fff"/><circle cx="17" cy="14.800" r="7.200" fill="#45b369"/><circle cx="17" cy="14.800" r="5.900" fill="#fff"/><path d="M18.55 13.43c-0.62-1.00-1.75-1.38-2.88-0.88-1.38.75-1.25 1.88.12 2.38l1.88.70c1.50.55 1.38 2.00-.12 2.45-1.25.37-2.38.07-3.00-.95M17 11.18v7.25" stroke="#45b369" stroke-width="1.4" fill="none" stroke-linecap="round" stroke-linejoin="round"/></svg>
<span class="t " style="top:169.00px;font-size:16px;line-height:24px;color:#4b5563;transform:scaleX(1.0658);-webkit-text-stroke:0.3px #4b5563;left:1632.30px;transform-origin:0 0;">Total Earning</span>
<span class="t " style="top:195.00px;font-size:24px;line-height:36px;color:#111827;font-weight:700;transform:scaleX(1.0825);left:1632.50px;transform-origin:0 0;">15,000</span>
<span class="t " style="top:232.00px;font-size:14px;line-height:21px;color:#4b5563;transform:scaleX(1.0569);-webkit-text-stroke:0.25px #4b5563;left:1632.30px;transform-origin:0 0;">Increase by</span>
<div class="abs" style="left:1718px;top:232px;width:44px;height:20px;border-radius:4px;background:#d9f1e2"></div>
<span class="t " style="top:232.00px;font-size:14px;line-height:21px;color:#45b369;transform:scaleX(1.0865);-webkit-text-stroke:0.2px #45b369;left:1723.00px;transform-origin:0 0;">+200</span>
<span class="t " style="top:232.00px;font-size:14px;line-height:21px;color:#4b5563;transform:scaleX(1.0830);-webkit-text-stroke:0.25px #4b5563;left:1770.50px;transform-origin:0 0;">this week</span>
<!-- revenue -->
<section class="card" style="left:336px;top:292px;width:1056px;height:432px"></section>
<span class="t " style="top:316.00px;font-size:20px;line-height:30px;color:#111827;font-weight:700;left:360.60px;transform-origin:0 0;">Revenue Statistics</span>
<div class="abs" style="left:1272px;top:316px;width:96px;height:32px;border:1px solid #d1d5db;border-radius:4px;background:#fff"></div>
<span class="t " style="top:322.00px;font-size:14px;line-height:21px;color:#4b5563;transform:scaleX(1.0461);-webkit-text-stroke:0.25px #4b5563;left:1286.70px;transform-origin:0 0;">Yearly</span>
<svg style="left:1340.3px;top:324.0px" width="16" height="16" viewBox="0 0 16 16"><path d="M2 5.200l6 5.600 6-5.600" fill="none" stroke="#374151" stroke-width="2.100" stroke-linecap="round" stroke-linejoin="round"/></svg>
<span class="t " style="top:370.00px;font-size:14px;line-height:21px;color:#6b7280;transform:scaleX(1.0388);-webkit-text-stroke:0.15px #6b7280;left:360.60px;transform-origin:0 0;">Income</span>
<span class="t " style="top:393.00px;font-size:24px;line-height:36px;color:#111827;font-weight:700;transform:scaleX(1.0811);left:360.60px;transform-origin:0 0;">$26,201</span>
<span class="t " style="top:400.00px;font-size:14px;line-height:21px;color:#45b369;font-weight:700;transform:scaleX(0.9643);left:463.50px;transform-origin:0 0;">10%</span>
<svg style="left:497px;top:406px" width="10" height="7" viewBox="0 0 10 7"><path d="M5 1.500c.3 0 .5.100.7.300l3.500 3.500c.3.300.1.900-.4.900H1.200c-.5 0-.7-.6-.4-.9l3.500-3.500c.2-.2.400-.3.700-.3z" fill="#45b369"/></svg>
<span class="t " style="top:370.00px;font-size:14px;line-height:21px;color:#6b7280;transform:scaleX(1.0169);-webkit-text-stroke:0.15px #6b7280;left:550.80px;transform-origin:0 0;">Expenses</span>
<span class="t " style="top:393.00px;font-size:24px;line-height:36px;color:#111827;font-weight:700;transform:scaleX(1.0085);left:550.80px;transform-origin:0 0;">$18,120</span>
<span class="t " style="top:400.00px;font-size:14px;line-height:21px;color:#ef4a00;font-weight:700;transform:scaleX(0.9821);left:648.30px;transform-origin:0 0;">10%</span>
<svg style="left:682px;top:407px" width="10" height="7" viewBox="0 0 10 7"><path d="M5 5.900c-.3 0-.5-.1-.7-.3L.8 2.100c-.3-.3-.1-.9.400-.9h7.600c.5 0 .7.600.4.900L5.700 5.600c-.2.200-.4.300-.7.300z" fill="#ef4a00"/></svg>
<svg style="left:336px;top:292px" width="1056" height="432" viewBox="336 292 1056 432"><path d="M407.900 456.8H1369" stroke="#d9dce2" stroke-width="1.400" stroke-dasharray="1.400 5.600" fill="none"/><path d="M407.900 492.8H1369" stroke="#d9dce2" stroke-width="1.400" stroke-dasharray="1.400 5.600" fill="none"/><path d="M407.900 528.8H1369" stroke="#d9dce2" stroke-width="1.400" stroke-dasharray="1.400 5.600" fill="none"/><path d="M407.900 564.8H1369" stroke="#d9dce2" stroke-width="1.400" stroke-dasharray="1.400 5.600" fill="none"/><path d="M407.900 600.8H1369" stroke="#d9dce2" stroke-width="1.400" stroke-dasharray="1.400 5.600" fill="none"/><path d="M407.900 636.8H1369" stroke="#d9dce2" stroke-width="1.400" stroke-dasharray="1.400 5.600" fill="none"/><path d="M407.900 672.8H1369" stroke="#d9dce2" stroke-width="1.400" stroke-dasharray="1.400 5.600" fill="none"/><rect x="440.2" y="504.1" width="8.200" height="56.9" rx="4.100" fill="#487fff"/><rect x="440.2" y="569" width="8.200" height="68.0" rx="4.100" fill="#ef4a00"/><rect x="520.9" y="478.2" width="8.200" height="82.8" rx="4.100" fill="#487fff"/><rect x="520.9" y="569" width="8.200" height="52.9" rx="4.100" fill="#ef4a00"/><rect x="601.5" y="500.1" width="8.200" height="60.9" rx="4.100" fill="#487fff"/><rect x="601.5" y="569" width="8.200" height="90.6" rx="4.100" fill="#ef4a00"/><rect x="682.2" y="533.0" width="8.200" height="28.0" rx="4.100" fill="#487fff"/><rect x="682.2" y="569" width="8.200" height="40.8" rx="4.100" fill="#ef4a00"/><rect x="762.9" y="472.2" width="8.200" height="88.8" rx="4.100" fill="#487fff"/><rect x="762.9" y="569" width="8.200" height="86.9" rx="4.100" fill="#ef4a00"/><rect x="843.6" y="504.3" width="8.200" height="56.7" rx="4.100" fill="#487fff"/><rect x="843.6" y="569" width="8.200" height="27.8" rx="4.100" fill="#ef4a00"/><rect x="924.2" y="521.2" width="8.200" height="39.8" rx="4.100" fill="#487fff"/><rect x="924.2" y="569" width="8.200" height="80.7" rx="4.100" fill="#ef4a00"/><rect x="1004.9" y="466.1" width="8.200" height="94.9" rx="4.100" fill="#487fff"/><rect x="1004.9" y="569" width="8.200" height="95.9" rx="4.100" fill="#ef4a00"/><rect x="1085.6" y="504.3" width="8.200" height="56.7" rx="4.100" fill="#487fff"/><rect x="1085.6" y="569" width="8.200" height="67.8" rx="4.100" fill="#ef4a00"/><rect x="1166.2" y="526.0" width="8.200" height="35.0" rx="4.100" fill="#487fff"/><rect x="1166.2" y="569" width="8.200" height="43.9" rx="4.100" fill="#ef4a00"/><rect x="1246.9" y="515.0" width="8.200" height="46.0" rx="4.100" fill="#487fff"/><rect x="1246.9" y="569" width="8.200" height="52.9" rx="4.100" fill="#ef4a00"/><rect x="1327.6" y="504.3" width="8.200" height="56.7" rx="4.100" fill="#487fff"/><rect x="1327.6" y="569" width="8.200" height="60.7" rx="4.100" fill="#ef4a00"/></svg>
<span class="t " style="top:448.00px;font-size:12px;line-height:18px;color:#4b5563;transform:scaleX(1.0382);-webkit-text-stroke:0.2px #4b5563;left:362.20px;transform-origin:0 0;">$10.5k</span>
<span class="t " style="top:484.00px;font-size:12px;line-height:18px;color:#4b5563;transform:scaleX(1.1331);-webkit-text-stroke:0.2px #4b5563;left:361.90px;transform-origin:0 0;">$5000</span>
<span class="t " style="top:520.00px;font-size:12px;line-height:18px;color:#4b5563;transform:scaleX(1.0791);-webkit-text-stroke:0.2px #4b5563;left:363.70px;transform-origin:0 0;">$1000</span>
<span class="t " style="top:556.00px;font-size:12px;line-height:18px;color:#4b5563;transform:scaleX(1.0961);-webkit-text-stroke:0.2px #4b5563;left:392.40px;transform-origin:0 0;">0</span>
<span class="t " style="top:592.00px;font-size:12px;line-height:18px;color:#4b5563;transform:scaleX(1.0382);-webkit-text-stroke:0.2px #4b5563;left:362.20px;transform-origin:0 0;">$10.5k</span>
<span class="t " style="top:628.00px;font-size:12px;line-height:18px;color:#4b5563;transform:scaleX(1.1331);-webkit-text-stroke:0.2px #4b5563;left:361.90px;transform-origin:0 0;">$5000</span>
<span class="t " style="top:664.00px;font-size:12px;line-height:18px;color:#4b5563;transform:scaleX(1.0791);-webkit-text-stroke:0.2px #4b5563;left:363.70px;transform-origin:0 0;">$1000</span>
<span class="t " style="top:682.00px;font-size:12px;line-height:18px;color:#4b5563;transform:scaleX(1.0145);-webkit-text-stroke:0.2px #4b5563;left:434.50px;transform-origin:0 0;">Jan</span>
<span class="t " style="top:682.00px;font-size:12px;line-height:18px;color:#4b5563;transform:scaleX(1.0145);-webkit-text-stroke:0.2px #4b5563;left:514.47px;transform-origin:0 0;">Feb</span>
<span class="t " style="top:682.00px;font-size:12px;line-height:18px;color:#4b5563;transform:scaleX(1.0465);-webkit-text-stroke:0.2px #4b5563;left:594.84px;transform-origin:0 0;">Mar</span>
<span class="t " style="top:682.00px;font-size:12px;line-height:18px;color:#4b5563;transform:scaleX(1.0504);-webkit-text-stroke:0.2px #4b5563;left:676.51px;transform-origin:0 0;">Apr</span>
<span class="t " style="top:682.00px;font-size:12px;line-height:18px;color:#4b5563;transform:scaleX(1.0317);-webkit-text-stroke:0.2px #4b5563;left:755.28px;transform-origin:0 0;">May</span>
<span class="t " style="top:682.00px;font-size:12px;line-height:18px;color:#4b5563;transform:scaleX(1.0352);-webkit-text-stroke:0.2px #4b5563;left:837.65px;transform-origin:0 0;">Jun</span>
<span class="t " style="top:682.00px;font-size:12px;line-height:18px;color:#4b5563;transform:scaleX(1.0612);-webkit-text-stroke:0.2px #4b5563;left:920.17px;transform-origin:0 0;">Jul</span>
<span class="t " style="top:682.00px;font-size:12px;line-height:18px;color:#4b5563;transform:scaleX(1.0534);-webkit-text-stroke:0.2px #4b5563;left:997.74px;transform-origin:0 0;">Aug</span>
<span class="t " style="top:682.00px;font-size:12px;line-height:18px;color:#4b5563;transform:scaleX(1.0066);-webkit-text-stroke:0.2px #4b5563;left:1078.91px;transform-origin:0 0;">Sep</span>
<span class="t " style="top:682.00px;font-size:12px;line-height:18px;color:#4b5563;transform:scaleX(1.0611);-webkit-text-stroke:0.2px #4b5563;left:1160.43px;transform-origin:0 0;">Oct</span>
<span class="t " style="top:682.00px;font-size:12px;line-height:18px;color:#4b5563;transform:scaleX(1.0300);-webkit-text-stroke:0.2px #4b5563;left:1240.00px;transform-origin:0 0;">Nov</span>
<span class="t " style="top:682.00px;font-size:12px;line-height:18px;color:#4b5563;transform:scaleX(1.0300);-webkit-text-stroke:0.2px #4b5563;left:1320.67px;transform-origin:0 0;">Dec</span>
<!-- statistic -->
<section class="card" style="left:1416px;top:292px;width:480px;height:432px"></section>
<span class="t " style="top:312.00px;font-size:20px;line-height:30px;color:#111827;font-weight:700;transform:scaleX(1.0206);-webkit-text-stroke:0.3px #111827;left:1440.50px;transform-origin:0 0;">Statistic</span>
<span class="t " style="top:367.00px;font-size:24px;line-height:36px;color:#4b5563;transform:scaleX(1.0406);left:1440.50px;transform-origin:0 0;">Daily Conversions</span>
<span class="t " style="top:407.00px;font-size:32px;line-height:48px;color:#111827;font-weight:700;transform:scaleX(0.9766);left:1441.30px;transform-origin:0 0;">%60</span>
<span class="t " style="top:492.00px;font-size:24px;line-height:36px;color:#4b5563;transform:scaleX(1.0363);left:1440.70px;transform-origin:0 0;">Visits By Day</span>
<span class="t " style="top:532.00px;font-size:32px;line-height:48px;color:#111827;font-weight:700;transform:scaleX(1.0142);left:1441.00px;transform-origin:0 0;">20k</span>
<span class="t " style="top:617.00px;font-size:24px;line-height:36px;color:#4b5563;transform:scaleX(1.0529);left:1440.70px;transform-origin:0 0;">Today Income</span>
<span class="t " style="top:657.00px;font-size:32px;line-height:48px;color:#111827;font-weight:700;transform:scaleX(1.0042);left:1441.00px;transform-origin:0 0;">$5.5k</span>
<svg style="left:1416px;top:292px" width="480" height="432" viewBox="1416 292 480 432"><defs><linearGradient id="gg" x1="0" y1="1" x2="1" y2="0" gradientUnits="objectBoundingBox"><stop offset="0" stop-color="#487fff"/><stop offset="1" stop-color="#a3bdff"/></linearGradient><linearGradient id="ag" x1="0" y1="0" x2="0" y2="1"><stop offset="0" stop-color="#ff9f29" stop-opacity="0.450"/><stop offset="1" stop-color="#ff9f29" stop-opacity="0"/></linearGradient><linearGradient id="bg5" x1="0" y1="0" x2="0" y2="1"><stop offset="0" stop-color="#8efcab"/><stop offset="1" stop-color="#45b369"/></linearGradient></defs><path d="M1744 438.2A62 62 0 0 1 1868 438.2" fill="none" stroke="#e3e6e9" stroke-width="12" stroke-linecap="round"/><path d="M1744 438.2A62 62 0 0 1 1806 376.2" fill="none" stroke="url(#gg)" stroke-width="12" stroke-linecap="round"/><circle cx="1805.500" cy="423.500" r="18.300" fill="#f1f2f4"/><circle cx="1805.500" cy="424" r="8.200" fill="#487fff"/><path d="M1801.200 425.300h8.600a4.300 4.300 0 0 1-8.600 0z" fill="#dfe8ff"/><rect x="1802.300" y="420.300" width="1.700" height="2.800" rx=".8" fill="#dfe8ff"/><rect x="1807" y="420.300" width="1.700" height="2.800" rx=".8" fill="#dfe8ff"/><path d="M1707.700 565.800C1709.500 562 1711.500 556.500 1713.500 553.700C1715 552.500 1716.500 555 1718.600 553.900C1722 552 1726 535.900 1729.800 535.900C1734.4 535.9 1736.1 545.0 1740.7 545.0C1745.5 545.0 1747.4 532.5 1752.2 532.5C1756.4 532.5 1758.1 556.7 1762.3 556.7C1771.0 556.7 1774.2 522.9 1782.9 522.9C1790.0 522.9 1792.7 559.8 1799.8 559.8C1807.4 559.8 1810.2 517.7 1817.8 517.7C1825.4 517.7 1828.2 553.9 1835.8 553.9C1847.5 553.9 1851.9 497.3 1863.6 497.3C1867 497.300 1870 499 1872.200 500.700L1872.200 569L1707.700 569Z" fill="url(#ag)"/><path d="M1707.700 565.800C1709.500 562 1711.500 556.500 1713.500 553.700C1715 552.500 1716.500 555 1718.600 553.900C1722 552 1726 535.900 1729.800 535.900C1734.4 535.9 1736.1 545.0 1740.7 545.0C1745.5 545.0 1747.4 532.5 1752.2 532.5C1756.4 532.5 1758.1 556.7 1762.3 556.7C1771.0 556.7 1774.2 522.9 1782.9 522.9C1790.0 522.9 1792.7 559.8 1799.8 559.8C1807.4 559.8 1810.2 517.7 1817.8 517.7C1825.4 517.7 1828.2 553.9 1835.8 553.9C1847.5 553.9 1851.9 497.3 1863.6 497.3C1867 497.300 1870 499 1872.200 500.700" fill="none" stroke="#ff9f29" stroke-width="1.600" stroke-linejoin="round" stroke-linecap="round"/><rect x="1707.9" y="660.1" width="14" height="38.3" rx="7" fill="#e3e6e9"/><rect x="1737.9" y="619.2" width="14" height="79.2" rx="7" fill="#e3e6e9"/><rect x="1767.9" y="660.1" width="14" height="38.3" rx="7" fill="#e3e6e9"/><rect x="1797.9" y="647.1" width="14" height="51.3" rx="7" fill="#e3e6e9"/><rect x="1827.9" y="621" width="14" height="77.4" rx="7" fill="url(#bg5)"/><rect x="1857.9" y="646.3" width="14" height="52.1" rx="7" fill="#e3e6e9"/></svg>
<!-- location -->
<section class="card" style="left:336px;top:748px;width:328px;height:449px;overflow:hidden">
<div class="abs" style="left:0;top:66px;width:328px;height:160px;background:#f5f6fa;overflow:hidden">
<svg style="left:0;top:0" width="328" height="160" viewBox="0 0 328 160"><path d="M-20.7 23.3L-8.2 18.4L-0.8 17.2L11.1 18.4L23.0 18.4L32.6 20.8L39.1 20.8L52.3 19.6L56.4 16.0L61.6 19.6L64.5 20.8L60.1 25.9L55.2 25.9L46.6 29.8L43.5 32.8L44.1 35.1L50.1 37.4L53.1 37.8L51.3 41.2L53.9 42.6L55.9 38.5L59.8 35.1L60.2 32.4L62.9 27.8L66.7 28.1L69.8 29.8L69.0 32.4L72.3 33.1L74.9 30.7L75.8 34.4L76.5 37.8L79.8 40.6L79.1 42.6L74.0 44.7L67.4 44.7L63.0 47.5L67.8 46.8L67.6 48.9L71.1 50.3L68.2 52.5L64.3 53.9L63.8 51.8L59.7 53.9L58.4 56.0L53.7 58.2L50.8 61.8L49.0 66.1L46.3 67.5L41.7 71.2L41.6 77.7L40.5 80.3L39.0 78.4L38.7 74.8L37.5 73.3L32.7 72.9L30.5 74.5L28.7 74.3L25.1 74.1L20.9 76.5L19.4 80.6L18.4 84.2L19.9 89.2L21.6 90.4L26.1 90.0L27.2 86.3L31.7 85.6L30.4 90.7L28.8 93.6L34.4 93.9L35.1 96.5L34.2 100.8L36.2 103.7L39.4 103.0L42.1 104.4L41.2 106.3L38.6 106.1L36.8 105.1L34.9 104.7L31.8 102.2L29.6 97.9L25.3 96.5L21.9 93.6L18.0 93.9L13.3 91.7L8.7 88.5L8.7 84.9L6.4 80.1L2.6 73.3L0.9 71.2L2.1 77.7L3.9 83.5L1.3 80.6L-0.9 74.8L-1.6 69.7L-4.8 66.8L-5.3 62.5L-5.0 58.2L-0.5 50.3L2.8 46.8L0.3 44.0L0.8 39.2L0.5 35.8L-0.1 33.1L-2.5 31.3L-7.2 30.0L-13.5 31.1L-18.4 33.7L-24.7 35.8L-31.2 37.8L-34.9 38.3L-25.6 33.7L-24.7 31.1L-25.3 29.1L-21.5 26.5L-16.5 25.2L-19.7 23.9ZM81.1 8.8L86.5 7.2L94.4 5.5L106.5 4.6L118.0 4.2L125.1 5.5L131.2 5.9L126.2 7.2L124.7 10.4L122.2 13.7L120.4 17.8L116.2 20.2L110.5 20.8L104.9 23.6L99.9 27.2L96.6 31.1L93.8 30.4L91.5 28.5L90.8 25.2L90.2 22.1L90.9 18.4L91.6 15.4L91.0 12.0L84.6 11.5L81.3 10.4ZM70.3 14.3L73.9 15.4L78.1 18.4L81.7 22.1L77.8 25.9L72.8 27.8L69.9 25.9L65.8 24.6L70.7 21.5L68.5 19.0L62.5 18.4L60.4 16.6L63.3 14.3ZM35.0 16.0L41.6 14.9L47.8 14.9L47.8 18.4L39.9 20.0L33.4 19.0ZM28.7 16.0L34.6 13.3L38.8 14.3L34.3 16.6L29.5 16.8ZM65.5 10.4L73.3 10.9L78.7 8.8L87.4 6.3L93.3 5.0L87.8 4.4L75.2 5.5L68.1 6.8ZM58.0 12.5L62.6 13.1L71.7 12.5L71.4 11.1L63.2 10.9ZM40.8 12.5L47.7 12.5L51.6 11.5L49.6 9.9L40.5 10.4ZM52.8 14.3L55.5 16.0L59.1 14.0L57.4 13.1ZM54.8 26.5L57.9 27.8L61.1 25.9L59.4 23.9L56.6 24.6ZM73.8 47.9L77.1 49.2L80.5 49.4L81.2 47.9L78.8 45.4L79.1 42.8L76.2 44.7ZM34.3 84.9L38.3 83.2L43.1 84.2L46.6 86.8L47.5 87.5L43.3 87.9L42.9 86.3L38.7 84.9ZM47.2 88.1L50.2 87.9L53.9 88.8L54.5 89.8L51.1 91.0L46.9 90.1ZM42.0 90.1L44.5 90.4L43.6 91.0ZM56.0 90.1L57.9 90.2L56.8 90.8ZM42.1 104.4L45.3 100.8L49.2 99.4L49.7 101.5L54.2 100.1L59.2 101.5L61.8 101.2L64.2 104.4L67.9 108.0L71.7 108.3L74.8 110.2L76.7 115.3L78.6 118.1L83.7 120.3L89.5 121.0L93.3 123.9L95.9 127.5L95.4 131.2L91.7 135.5L91.4 142.0L89.3 148.5L85.6 149.9L80.9 153.6L80.6 157.9L77.3 163.7L74.9 167.3L71.9 167.3L72.6 170.9L67.2 173.1L66.6 177.4L65.5 181.6L64.0 183.8L66.4 185.9L64.9 189.4L66.0 192.2L64.2 194.2L59.7 191.5L55.7 185.9L55.3 180.2L54.0 174.5L53.4 170.2L53.5 163.0L52.4 157.2L52.6 149.9L52.1 143.4L48.4 140.6L44.3 136.9L41.4 131.2L38.6 126.1L36.8 123.2L38.4 120.3L37.7 118.1L38.4 115.3L40.3 113.8L41.6 110.9L41.8 106.6ZM133.4 65.0L138.1 66.1L141.7 64.2L144.1 63.4L150.0 63.2L152.4 62.8L153.6 63.5L152.8 67.5L153.8 68.7L158.7 70.0L163.8 72.9L164.8 70.4L168.4 69.7L171.0 71.0L175.9 71.9L179.5 71.5L182.2 71.5L180.4 73.5L182.5 77.7L184.7 82.0L186.8 86.3L187.4 89.5L188.9 90.7L190.4 94.3L193.1 97.2L195.3 98.6L195.4 100.1L197.0 101.5L200.2 100.5L205.2 99.4L205.5 101.5L202.9 106.6L201.1 110.9L196.7 115.3L193.5 119.3L191.5 121.8L190.2 126.1L190.7 129.7L191.9 132.6L191.7 138.4L188.4 141.6L185.7 144.2L184.1 145.6L184.7 150.7L181.4 153.6L180.9 157.2L178.5 160.1L174.5 164.4L171.3 165.9L167.1 166.1L164.0 166.9L162.6 165.9L162.4 163.0L160.8 158.6L159.1 155.0L158.6 149.2L155.6 142.7L155.4 139.1L157.6 134.0L157.4 129.7L156.0 125.4L155.5 123.2L152.6 119.6L152.0 116.0L152.9 113.1L152.0 110.9L149.4 110.3L147.5 108.7L146.2 107.6L142.4 107.7L137.9 109.5L134.8 109.2L130.9 110.3L128.4 108.0L125.9 106.6L124.0 104.0L122.1 101.5L121.5 100.8L119.6 98.6L119.4 96.8L118.4 95.4L119.7 93.6L120.0 89.2L119.2 86.3L120.6 82.7L122.1 79.8L124.5 76.7L127.0 75.1L128.2 74.1L128.7 71.9L129.6 69.4L132.0 67.5ZM203.0 134.0L204.0 139.1L202.8 142.7L200.5 148.5L198.9 152.8L196.3 153.6L194.8 149.9L195.7 145.6L196.6 140.6L199.2 139.1L201.3 136.2ZM129.8 63.2L129.3 60.8L130.2 56.8L129.9 54.6L131.3 53.6L136.5 53.9L138.8 54.0L139.1 50.3L137.7 48.5L135.2 47.0L138.8 46.5L138.6 45.3L140.7 45.4L142.3 43.6L144.3 42.8L145.4 41.2L145.9 40.1L148.1 39.9L149.9 39.4L149.4 37.8L149.1 35.4L150.7 34.4L151.4 34.2L151.4 36.0L151.2 37.8L152.3 39.2L153.9 38.6L155.5 39.2L158.2 38.5L160.3 38.2L161.4 38.6L162.8 37.4L162.5 35.1L163.9 34.3L165.6 34.8L165.7 33.3L164.6 32.1L167.1 31.7L169.2 31.6L171.1 31.2L169.4 30.4L166.9 30.5L164.0 31.2L162.3 30.3L161.7 27.8L162.6 26.3L164.8 24.6L164.9 23.9L163.1 23.6L161.4 24.6L161.1 25.9L159.3 26.9L158.0 28.5L157.9 30.1L159.7 31.2L159.0 32.4L157.7 34.4L157.4 36.0L155.7 36.8L154.1 37.1L153.7 35.8L152.4 33.7L151.8 32.4L151.3 31.7L149.3 33.5L147.8 33.7L146.2 32.7L145.6 31.1L145.5 28.7L147.0 27.6L148.9 26.5L150.7 25.2L152.1 23.9L152.9 22.7L154.1 20.8L155.8 19.9L157.9 18.4L160.6 17.8L163.6 17.2L165.9 17.2L168.8 18.0L168.1 18.7L171.0 19.1L173.8 19.4L178.0 20.8L179.5 22.5L177.4 23.1L173.4 22.7L171.9 22.5L174.0 24.6L174.7 25.5L176.8 26.1L177.4 25.2L179.4 25.0L179.5 23.6L180.6 22.7L182.6 23.1L181.9 21.2L181.1 20.2L183.6 20.6L184.6 22.1L185.7 21.2L190.1 20.6L190.7 19.9L194.5 19.9L196.7 19.6L196.1 18.6L199.7 19.2L203.8 19.9L202.0 18.4L200.8 16.6L201.4 14.9L204.2 15.1L206.5 17.2L207.3 19.6L208.9 21.5L209.5 20.8L207.5 17.2L207.6 16.0L209.4 16.0L210.0 15.7L212.0 15.4L211.4 14.3L215.4 13.7L215.3 12.5L218.6 11.7L224.0 11.2L226.2 9.6L229.6 10.4L236.4 11.7L238.1 13.7L236.6 13.9L239.5 14.2L245.6 14.9L249.1 14.5L253.4 15.4L257.4 17.2L259.5 17.4L260.2 16.6L265.6 16.6L264.9 15.4L270.6 15.7L275.5 16.6L278.2 17.2L283.7 17.2L287.8 18.7L291.5 18.7L295.0 18.6L298.3 19.6L297.4 18.4L302.4 18.6L307.6 19.6L314.2 23.9L314.1 25.2L316.6 27.8L314.3 29.1L313.9 31.1L309.8 31.1L309.8 33.7L313.2 37.8L313.8 40.6L313.2 43.3L309.5 40.6L303.9 35.1L303.7 31.1L303.8 28.7L301.0 28.9L300.3 31.7L298.6 32.0L293.1 31.7L287.3 32.0L286.1 35.1L285.3 38.2L288.5 39.4L293.2 40.6L296.2 44.7L297.6 48.2L296.6 52.5L294.6 54.9L292.5 55.3L292.3 57.5L290.9 59.6L294.9 63.2L295.6 65.7L293.1 66.8L291.3 63.5L289.0 61.8L288.5 59.6L286.6 59.2L284.1 60.3L283.5 57.9L281.1 60.1L280.5 61.5L283.9 62.5L286.6 63.2L284.4 66.1L287.8 70.4L289.8 72.6L289.6 76.2L288.8 79.8L286.3 82.7L282.9 84.5L278.8 86.1L278.0 87.4L276.2 85.3L274.2 87.1L273.4 89.2L276.1 92.8L278.5 97.2L278.8 100.1L275.9 102.2L274.1 104.1L273.7 102.2L271.3 100.8L269.8 98.6L268.2 97.6L267.3 99.4L267.0 102.2L268.5 105.9L270.5 107.7L272.5 110.9L273.3 114.5L272.0 114.5L269.8 112.7L268.7 109.5L267.5 106.9L265.6 104.4L265.9 101.5L264.7 97.9L263.5 92.8L260.8 93.9L259.3 92.1L258.5 88.5L256.1 86.6L254.7 84.2L253.0 84.9L251.1 85.3L249.4 86.3L249.0 87.8L247.2 88.5L244.6 92.8L241.9 94.3L241.8 97.6L241.9 101.5L239.8 104.8L238.5 105.1L237.1 102.2L235.6 98.6L234.1 95.0L232.4 91.4L231.7 87.8L231.3 86.3L228.8 86.6L226.7 84.5L224.5 82.0L223.1 80.1L217.5 80.3L212.5 79.8L210.9 77.7L207.3 78.1L204.0 76.5L201.8 73.3L200.0 73.3L199.5 74.8L202.4 78.4L204.5 80.6L204.6 82.0L207.7 82.0L209.9 79.1L210.8 81.3L213.4 82.7L215.2 84.2L213.8 87.1L212.7 89.2L209.8 92.1L206.1 93.6L201.2 96.5L197.5 98.2L195.4 98.3L194.5 95.0L192.1 90.7L189.3 86.3L186.9 82.0L183.6 76.2L183.2 74.1L182.4 71.5L182.9 69.0L183.7 65.4L183.5 63.5L181.2 64.2L178.8 64.4L177.0 64.2L175.2 64.4L173.3 63.2L171.9 61.1L171.5 58.9L174.4 57.5L177.3 57.0L181.2 56.0L183.8 57.2L187.3 57.5L188.9 56.8L188.4 55.0L185.4 53.2L183.4 51.8L183.6 49.6L184.5 48.6L181.3 49.4L180.3 50.1L181.1 51.3L178.9 52.5L177.6 51.0L178.6 50.3L176.2 49.5L174.7 50.6L173.5 53.2L173.1 56.0L174.4 57.2L171.6 58.2L171.0 57.8L168.6 57.8L167.5 58.5L167.3 59.9L169.0 61.8L168.0 63.9L166.8 63.5L165.8 61.8L163.4 58.5L163.2 56.3L162.0 55.3L159.0 53.9L157.7 52.0L156.5 51.8L156.1 50.8L154.5 51.3L154.9 53.2L156.7 55.3L159.1 56.3L162.2 58.6L160.5 58.2L160.0 59.6L159.5 61.8L159.1 61.8L159.4 60.3L158.1 58.6L155.7 57.2L153.3 55.3L152.4 53.9L150.6 52.6L149.1 53.5L147.4 54.6L145.1 53.9L144.0 55.3L144.2 56.3L141.4 57.5L140.1 59.6L139.9 61.3L138.1 63.5L135.1 63.7L133.8 64.7L132.9 63.5L131.7 62.9ZM134.4 44.7L137.2 44.0L141.9 43.0L142.3 41.0L140.8 40.6L140.3 38.5L138.9 37.1L138.4 36.4L137.3 35.8L138.4 34.2L136.3 34.2L137.1 32.9L135.3 32.9L134.0 35.1L134.7 36.4L135.2 38.1L136.8 38.1L137.3 39.9L135.6 40.3L135.8 41.9L134.8 42.2L136.7 42.8L135.6 43.3ZM129.6 41.9L133.6 41.7L134.0 39.9L134.3 38.1L132.5 37.4L129.8 38.9L130.2 40.6ZM117.3 23.9L119.5 22.8L123.3 23.1L126.6 23.1L127.4 24.6L125.8 25.5L122.3 26.6L118.4 26.1L119.1 24.8ZM149.3 7.7L153.2 7.2L157.9 6.9L161.9 7.2L157.6 9.0L154.7 10.7L152.1 9.9ZM187.6 17.2L189.1 14.9L189.5 12.5L194.7 10.4L197.6 10.9L192.4 13.1L191.2 15.4L190.5 17.5ZM217.1 8.3L218.6 6.3L225.2 8.3L222.5 9.3ZM258.3 12.5L260.7 11.5L268.9 12.2L266.0 13.1L260.8 13.1ZM155.3 61.8L159.0 61.5L158.7 63.7L155.4 62.5ZM150.1 57.5L151.9 57.5L151.8 60.1L150.5 60.3ZM150.5 54.8L151.5 54.8L151.5 56.8L150.6 56.6ZM168.7 65.2L172.1 65.7L170.0 66.2ZM179.4 66.0L182.0 65.2L181.2 66.7L179.7 66.5ZM299.0 71.2L299.7 68.3L300.5 67.3L303.3 66.7L305.6 66.5L307.7 65.8L309.2 64.7L307.7 61.3L307.4 58.9L305.6 57.0L304.4 57.5L305.8 60.3L305.5 62.8L303.7 63.2L303.7 65.1L300.3 65.4L298.5 67.0L297.9 69.0ZM303.4 56.0L304.3 54.6L302.7 51.3L308.2 53.9L307.5 56.0L304.2 55.3ZM302.0 50.3L300.0 46.1L296.6 41.9L293.6 39.2L295.5 41.9L298.9 46.1ZM290.2 83.5L290.8 80.6L292.2 81.3L291.4 84.9ZM277.0 88.8L279.1 87.8L279.8 88.5L278.2 90.2ZM242.2 103.0L244.6 105.9L243.7 108.0L242.4 107.3ZM292.0 90.0L293.9 90.2L295.0 92.8L297.6 97.9L294.3 96.9L292.1 94.3ZM295.8 105.9L300.1 103.0L301.6 106.6L299.8 108.3ZM295.3 99.6L297.9 100.1L299.9 100.8L298.8 102.2L296.2 102.2ZM289.7 104.4L292.3 101.1L291.9 100.4L289.3 104.0ZM262.0 108.7L265.5 110.9L269.4 113.8L272.6 118.1L275.7 121.0L275.3 125.1L273.1 124.7L269.4 120.3L266.2 115.3L263.0 111.6ZM279.6 114.5L282.2 114.5L284.7 112.4L287.1 109.5L289.5 106.6L292.2 109.5L290.4 112.4L291.1 115.3L289.2 119.6L286.6 122.5L282.8 121.5L280.9 118.9ZM274.9 126.1L278.7 126.4L281.9 126.1L286.3 127.5L285.5 129.0L280.5 128.3L276.1 127.5ZM293.1 116.0L295.0 115.3L300.1 114.5L295.6 117.9L297.5 118.1L295.5 120.3L296.7 123.9L293.9 124.7L293.0 121.8ZM297.4 131.6L299.5 129.7L302.1 128.8L300.0 130.9ZM288.1 129.0L291.9 128.7L297.0 128.7L293.1 129.7ZM303.2 114.1L304.5 115.3L303.9 117.9L303.3 116.7ZM303.8 121.0L307.4 121.3L305.1 121.9ZM307.7 118.1L311.6 117.9L316.6 119.3L320.4 120.5L325.4 122.9L328.5 125.4L331.7 131.9L327.4 130.4L322.4 129.0L319.8 129.7L316.8 128.3L316.4 124.7L312.7 122.5L309.6 120.7ZM283.0 148.5L281.8 154.3L281.3 162.2L279.3 166.3L282.6 167.3L289.7 165.9L297.7 162.5L300.2 162.2L303.6 164.4L304.2 167.3L307.8 164.4L306.9 168.0L307.4 171.6L311.3 172.1L313.7 173.1L319.1 170.9L322.9 165.9L327.4 161.5L330.0 156.5L328.5 151.4L327.0 147.1L324.5 144.2L324.4 138.4L322.1 136.9L321.5 132.3L319.7 136.2L318.1 142.0L314.6 140.6L311.8 138.4L314.3 134.0L309.3 133.3L305.9 134.8L304.2 138.4L301.2 136.9L297.5 140.6L294.0 142.7L289.8 145.6L285.7 147.1Z" fill="#d1d5db" stroke="#f5f6fa" stroke-width="0.600" stroke-linejoin="round"/><path d="M194.4 52.5L196.0 49.6L198.8 49.2L201.0 51.0L199.0 52.5L198.7 54.6L201.8 56.8L204.1 60.3L204.3 63.2L201.4 63.7L198.8 62.5L198.7 59.6L196.4 56.0L194.7 53.9ZM36.3 49.4L42.1 46.5L44.9 47.8L44.7 49.6L41.9 49.6L38.6 49.4ZM38.3 56.0L40.1 56.0L43.5 51.0L42.0 50.6L39.5 52.5ZM45.0 50.3L48.3 50.6L48.7 52.5L45.7 54.3L44.7 52.5ZM43.4 56.3L48.9 55.0L49.1 54.6L46.6 55.0ZM48.6 54.2L52.5 53.8L52.6 52.9L49.5 53.5Z" fill="#f5f6fa"/><path d="M23.9 95.7L24.2 94.7L24.8 93.6L26.4 93.4L25.9 91.8L28.2 91.0L29.5 90.0M26.4 96.8L27.5 95.9L29.1 94.0M29.9 97.9L31.9 96.6L35.3 95.0M31.7 100.7L34.2 100.9M35.0 105.0L35.5 103.0M-2.9 30.7L10.5 18.9M50.0 99.6L48.4 101.5L48.4 105.1L51.3 106.6L54.5 107.7L54.6 113.8L55.1 115.0M64.2 104.4L62.8 107.3L63.1 109.2L64.2 110.2M55.1 115.0L58.8 113.8L58.5 110.9L62.7 110.2L64.0 109.2M67.6 108.0L66.5 111.6L68.4 114.0M71.7 108.5L70.9 113.4M74.6 110.6L73.5 113.1L70.9 113.4L68.4 114.0L65.4 115.0L63.9 114.5L64.0 109.2M55.1 115.0L51.4 115.1L51.8 118.1L51.2 122.8M39.9 114.7L41.5 116.0L44.3 116.8M44.3 116.8L47.3 120.0L51.2 122.8M38.1 121.6L39.8 123.9L40.6 121.6L43.5 120.3L44.3 116.8M51.2 122.8L47.4 123.9L46.5 127.3L47.9 130.4L50.9 130.4L50.9 132.6L52.3 132.6M52.3 132.6L53.3 135.1L53.3 139.1L53.0 142.0M52.1 143.2L53.0 142.0M52.3 132.6L54.1 132.2L57.5 131.2L57.7 133.8L62.0 135.8L64.3 136.5L64.5 140.1L66.9 140.3L68.2 142.7L67.7 145.3M53.0 142.0L54.6 145.6L56.9 149.9M56.9 149.9L59.3 148.5L62.2 148.8M62.2 148.8L62.9 145.2L66.4 144.6L67.7 145.3M67.7 145.3L68.3 148.8L71.0 149.2L72.9 151.4L72.8 153.7M62.2 148.8L68.4 152.8L69.0 153.7L68.1 156.0L71.3 156.2L72.8 153.7M56.9 149.9L55.4 152.8L55.3 160.1L55.0 164.4M72.8 153.7L74.0 156.0L69.9 160.4L69.9 164.4M124.5 76.7L129.8 76.7M119.2 86.3L124.2 85.9L124.3 82.7L125.5 82.7L125.6 79.1L129.7 79.1L129.8 77.2M134.5 80.6L132.4 80.6L133.4 92.8L133.6 94.3L128.5 94.4L126.0 94.1L125.1 95.3M119.7 93.6L122.2 92.7L125.1 95.3M125.1 95.3L126.0 98.8M119.3 98.8L123.1 98.5L126.0 98.8M119.2 97.2L121.5 96.9L123.0 97.3L121.5 97.6L119.2 97.8M121.5 100.8L123.1 99.8L123.1 98.5M126.0 98.8L129.7 99.4L130.3 102.0M123.6 103.7L127.1 104.4L127.4 104.4L128.7 105.9L129.7 105.7L130.3 104.4L130.3 102.0M125.9 106.6L127.4 104.4M130.9 110.3L129.7 105.7M130.3 102.0L133.5 101.7L136.9 102.7M136.9 109.3L136.4 106.6L136.9 102.7M136.9 102.7L136.9 100.8L140.5 100.7M142.0 107.9L141.1 105.1L140.5 100.7M142.7 107.7L142.4 103.7L141.6 100.8M143.9 107.4L144.1 103.7L145.1 99.8M140.5 100.7L141.6 100.8L143.5 98.9M133.5 101.7L135.4 97.2L138.0 96.0L140.8 95.0M140.8 95.0L141.8 97.3L143.5 98.9L145.1 99.8M140.8 95.0L144.9 94.4L145.8 92.8L145.8 88.9L144.5 88.9M145.1 99.8L145.6 97.2L149.4 97.9L153.2 97.5L157.6 96.9M157.6 96.9L160.0 92.3L160.4 87.2L159.2 83.5M155.5 82.7L159.2 83.5M159.2 83.5L170.6 88.5M152.1 73.0L153.0 70.9L154.4 68.7M150.4 66.1L150.6 69.7L151.5 70.4M171.0 71.0L171.7 84.9M171.7 84.9L171.9 87.8L170.6 87.8L170.6 88.5M171.7 84.9L186.6 84.9M170.6 88.5L170.8 94.0L169.0 97.9L169.6 100.8M157.6 96.9L158.9 98.2L159.6 102.2L158.0 103.0L160.2 105.9M160.2 105.9L164.0 105.1L169.6 100.8M151.5 109.9L152.3 107.4L155.1 107.2L157.0 103.7L158.9 98.6M160.2 105.9L159.0 108.7L160.9 113.4M153.0 113.4L157.3 113.5L160.9 113.4L161.2 119.6M153.0 115.3L154.9 115.3L154.9 113.5M154.8 122.3L156.5 120.0L158.9 119.6L158.9 116.7L157.3 113.5M169.6 100.8L171.0 104.1L175.4 109.5M171.0 104.1L176.1 103.0L182.4 102.2L183.7 103.0M183.7 103.0L184.9 99.4L186.7 96.0L187.1 92.1L188.9 90.7M186.7 96.0L189.8 95.6L193.1 98.2L195.1 98.6M193.5 100.1L195.1 100.5M195.1 100.5L195.2 103.0L197.8 104.4L201.6 105.1L197.9 109.5L194.1 110.6M201.6 105.1L202.7 100.4M194.1 110.6L190.9 111.6L186.4 110.3L183.9 110.6M183.7 103.0L182.5 105.1L185.1 108.7L183.9 110.6M192.8 119.2L192.8 112.4L194.1 110.6M183.9 110.6L185.2 114.5L183.9 116.7L183.9 118.1M183.9 118.1L188.6 121.0L190.5 123.5M179.8 111.6L183.9 110.6M179.4 118.1L183.9 118.1M177.5 120.6L179.8 120.0L179.4 118.1M177.7 123.1L179.8 121.5L179.8 120.0M184.3 133.3L188.1 133.6L191.8 131.9M179.7 128.7L182.3 130.3L184.3 133.3M182.3 130.3L182.3 136.9L178.7 138.4L178.9 139.3M184.3 133.3L185.4 137.7L185.0 141.3L183.9 137.5L182.3 136.9M172.3 142.4L174.5 142.7L177.0 139.7L178.9 139.3M170.9 132.5L170.9 135.5L168.4 135.5L168.3 140.1L170.0 142.1L172.3 142.4M155.4 141.7L158.1 141.9L163.8 141.9L170.0 142.1M166.9 143.2L166.7 148.5L165.5 148.5L165.4 152.6L165.1 157.8M172.3 142.4L173.1 144.9L175.2 147.1L177.2 148.8M165.4 152.6L169.1 153.3L172.3 153.7L174.1 150.8L177.2 148.8M178.9 139.3L182.1 141.3L181.8 145.6L179.6 149.1M179.6 149.1L180.3 152.8L181.1 155.4M160.8 158.0L165.1 157.8M177.2 148.8L179.6 149.1M130.3 56.2L132.9 56.3L132.3 58.9L131.8 61.8L131.7 62.9M138.4 54.0L144.2 55.5M143.2 43.2L145.2 44.7L147.2 45.4L149.6 46.1L149.1 48.1L147.3 50.1L148.5 50.5L148.5 52.9L149.1 53.5M144.2 42.8L145.1 42.8L147.1 42.2M148.1 40.1L147.1 42.2L147.1 44.4L147.2 45.4M155.8 39.3L156.7 43.3L154.0 44.3L155.9 46.5M155.9 46.5L155.1 48.2L151.3 48.2L149.1 48.1M149.6 37.9L150.6 38.1M165.8 39.2L166.3 41.9L167.0 44.0L165.8 45.8M156.7 43.3L161.4 45.4L165.8 45.8L165.4 47.5M155.9 46.5L159.5 46.5L161.4 45.4M159.6 47.5L161.6 47.8L165.4 47.5M148.5 50.5L152.4 49.2L156.0 49.6L156.1 50.8M156.0 49.6L158.8 49.2L159.6 47.5M158.8 49.2L162.1 50.5L163.6 50.1M156.1 51.0L158.0 51.0L159.2 49.6M158.6 51.5L162.2 51.8L162.7 51.9L163.0 53.9L162.0 55.3M162.1 50.5L162.2 51.8M162.7 51.9L166.6 52.9L166.5 55.6L164.5 56.2L163.2 56.3M164.5 56.2L165.1 57.6L167.3 57.0L167.4 57.0M165.4 47.5L163.6 50.1L166.6 52.9M165.4 47.5L170.2 47.2L172.7 51.0L174.3 51.3M170.3 47.1L171.9 47.1L174.5 49.8M166.6 52.9L171.6 53.2L173.5 53.6M167.4 57.0L170.9 57.0L173.1 56.0M170.9 57.0L171.3 57.9M175.2 41.8L177.8 43.0L179.7 44.1L182.6 44.8L184.9 45.3L185.1 47.8L183.6 48.8M166.4 42.6L170.1 42.6L174.0 42.9L175.2 41.8M175.2 41.8L174.1 40.6L175.8 39.9L173.4 38.1L170.3 36.3M170.3 36.3L169.4 34.4L168.7 32.7L169.2 31.7M165.8 39.2L168.0 37.9L168.7 36.8L170.3 36.3M162.7 36.4L165.8 36.0L168.7 36.8M165.8 33.9L169.1 34.4M163.0 38.6L164.9 38.6L165.8 39.2M168.9 30.4L170.3 27.8L171.7 27.2L169.4 23.7L167.4 19.6M163.8 23.6L162.9 21.5L159.5 19.6M152.0 32.4L153.1 29.8L152.5 26.5L154.4 23.3L156.0 20.8L159.5 19.6M159.5 19.6L164.4 19.6L167.4 19.6M183.6 64.4L185.9 63.5L190.9 62.9L193.9 62.9L192.8 59.6M188.9 56.8L191.4 57.3L192.8 59.6M186.7 54.0L190.3 54.6L194.7 56.3M191.4 57.3L193.1 57.0L194.7 56.3L197.0 56.2M193.1 57.0L195.5 60.5M192.8 59.6L195.5 60.5L197.1 59.6L198.5 61.2M190.9 62.9L190.0 67.0L187.5 68.4M183.7 65.4L184.7 67.3L183.9 68.6L187.5 68.4M183.0 68.9L183.9 68.6M182.4 71.5L183.3 74.1M183.6 69.7L183.9 71.9L183.5 74.2M183.5 74.2L185.3 74.1L187.0 72.6L186.2 71.2L188.0 70.4L187.5 68.4M187.5 68.4L189.8 70.6L195.4 74.5L197.6 74.6L199.4 74.1M197.6 74.6L199.2 75.5L200.1 75.5M193.9 62.9L195.8 65.4L195.5 67.5L198.8 71.9L200.0 73.3M194.5 93.0L197.2 91.7L200.8 90.0L205.8 89.2L209.5 87.8L210.0 84.9L209.4 83.9L205.4 83.5L204.6 81.6M203.7 81.0L204.2 81.3M205.8 89.2L207.3 92.7M209.4 83.9L210.1 81.3M204.7 62.8L207.0 61.8L211.1 62.5L213.6 63.8L213.6 67.5L214.6 71.2L215.9 72.2L215.2 73.6L218.3 77.4L217.0 80.3M215.2 73.6L221.8 73.5L224.9 70.6L226.1 66.8L226.0 63.9L229.8 62.9M214.0 65.2L217.7 64.2L219.7 62.6L221.6 63.2L225.3 61.2L229.8 62.9M205.9 57.0L208.3 55.0L210.6 57.2L213.5 58.9L219.7 62.6M219.7 62.6L221.1 61.1L220.3 59.5L223.3 58.5L221.6 56.8L222.8 56.0M223.3 58.5L227.6 59.6M222.9 55.3L225.8 55.3L227.4 54.8M225.4 82.4L228.8 81.3L226.8 76.5L230.0 73.5L231.0 69.7L232.7 65.4M235.7 67.1L236.6 71.6L239.7 73.0L239.0 75.1L244.2 76.9L249.6 78.5L249.1 76.4L254.2 77.8L253.6 76.5L257.2 74.5L260.3 75.8M239.7 73.0L243.8 74.9L246.5 76.2L249.1 76.4M250.2 77.2L254.2 77.8M249.6 78.5L251.0 80.1L255.2 80.6L254.1 82.7L256.1 86.3M249.6 78.5L251.0 81.6L251.8 85.2M260.3 75.8L258.2 79.1L258.1 81.0L256.6 82.0L256.7 84.9L256.4 85.9M260.3 75.8L262.9 79.4L262.5 82.0L264.6 83.6L267.1 85.6M267.1 85.6L265.9 87.4L263.5 90.0L265.0 93.6L265.9 97.2L265.9 101.8M265.9 87.4L267.7 91.4L269.5 90.8L272.4 91.7L273.9 94.3L273.6 96.0L270.2 96.2L270.7 98.6L271.1 99.8M268.1 84.3L271.5 87.2L272.5 89.7L275.5 92.8L276.6 95.4M273.6 96.0L276.6 95.4M276.6 95.4L276.8 98.9L275.1 100.8L273.3 101.7M267.1 85.6L268.1 84.3L271.8 83.0L273.8 84.9L275.6 85.6M268.0 107.4L269.4 108.5L270.6 107.7M280.4 113.8L280.5 115.3L282.2 115.3L283.7 114.7L286.7 114.7L288.2 110.5L290.5 110.6M286.0 110.1L287.2 109.6M320.4 120.5L319.8 129.7M298.2 130.1L299.7 129.3M238.3 45.8L244.4 51.3L250.3 52.9L252.3 55.0L258.7 55.3L263.0 56.6L268.5 54.9L269.5 53.5L268.4 51.8L272.5 51.0L276.2 49.4L270.0 45.0M238.3 45.8L242.4 43.6L249.1 44.7L247.8 41.9L252.7 42.9L253.4 44.0L259.1 44.7L264.1 45.7L267.2 44.4L270.0 45.0M270.0 45.0L272.4 44.3L271.7 41.1L273.9 39.9L277.1 40.8L281.8 44.7L286.3 46.3L287.8 47.9L291.3 47.0L292.7 51.8L292.0 53.9L292.2 55.5M292.2 55.5L289.5 56.0L288.4 56.3L286.9 58.9M291.1 62.1L292.6 60.9M233.8 55.6L230.4 57.6L227.6 59.6L229.8 62.9M229.8 62.9L232.7 65.4L235.7 67.1M42.7 104.4L42.0 105.7M28.2 91.0L27.9 93.7L28.3 93.7M-1.8 69.7L1.0 69.7M69.9 160.4L72.0 161.2L75.9 165.4M50.5 88.2L50.2 90.7" fill="none" stroke="#f5f6fa" stroke-width="0.700" stroke-linejoin="round" stroke-linecap="round"/><path d="M0.9 47.0L3.3 46.1L34.5 46.1L35.0 45.7L40.0 47.5L41.4 47.1L44.4 49.6L45.5 50.3L46.3 51.3L45.1 54.6L43.9 56.0L49.0 54.9L49.2 54.2L52.4 53.5L54.7 51.8L58.7 51.8L60.2 50.6L62.5 48.4L63.8 48.5L63.2 50.8L63.7 52.0L59.7 53.9L58.4 56.0L53.7 58.2L50.8 61.8L49.0 66.1L46.3 67.5L41.7 71.2L41.6 77.7L40.5 80.3L39.0 78.4L38.7 74.8L37.5 73.3L32.7 72.9L30.5 74.5L28.7 74.3L25.1 74.1L20.9 76.5L20.1 79.1L17.7 76.9L16.0 73.6L13.9 74.8L12.3 73.9L10.8 70.7L8.7 70.7L8.5 71.5L5.1 71.5L1.0 69.7L-1.8 69.7L-4.8 66.8L-5.3 62.5L-5.0 58.2L-0.5 50.3ZM129.8 77.2L129.8 75.2L134.4 73.3L136.1 71.2L139.0 70.2L138.3 66.8L137.9 66.0L140.5 64.8L144.1 63.4L147.7 63.2L150.8 63.4L150.4 66.1L149.6 67.8L151.5 70.4L152.1 73.0L152.7 76.2L152.3 78.7L152.9 81.3L155.5 82.7L149.9 86.6L147.8 88.5L144.5 88.9L144.3 89.2L142.0 86.8L134.5 80.6ZM192.5 46.8L192.6 44.7L194.0 44.0L196.3 42.3L201.0 43.3L204.3 43.3L208.1 43.3L206.3 39.9L210.1 38.5L213.9 37.4L216.7 38.9L219.5 39.2L222.5 38.8L224.2 40.1L228.5 43.3L232.3 43.3L235.5 45.3L237.8 45.8L237.0 48.6L234.2 48.6L234.4 51.0L232.1 51.8L233.8 55.6L232.0 54.9L227.4 54.8L225.6 54.6L222.9 55.3L222.3 57.2L220.8 57.9L218.2 57.2L216.9 54.6L212.1 53.9L207.2 51.0L204.6 51.8L205.9 57.0L203.2 55.6L201.7 56.3L201.9 54.9L199.7 54.2L198.2 52.5L199.3 51.3L200.4 49.1L198.1 48.9L196.0 49.6L194.6 48.2ZM156.0 125.1L157.1 123.3L159.0 123.8L160.9 122.5L161.2 119.6L163.1 117.4L163.5 113.1L164.2 110.5L165.4 109.5L169.2 110.6L172.4 109.2L175.4 109.5L178.1 110.3L179.8 111.6L180.4 113.5L178.4 116.7L178.3 118.7L177.5 120.6L177.7 123.1L178.1 125.8L179.7 128.7L177.3 129.0L176.6 130.1L176.8 131.9L176.5 133.8L177.9 134.5L178.2 136.1L176.0 135.5L174.8 133.8L172.6 133.0L171.4 132.6L170.9 132.5L168.7 132.7L168.2 130.4L168.4 127.3L165.3 126.8L164.7 128.3L162.8 128.4L161.7 125.4L157.1 125.2Z" fill="#487fff" stroke="#f5f6fa" stroke-width="0.500" stroke-linejoin="round"/><path d="M36.3 49.4L42.1 46.5L44.9 47.8L44.7 49.6L41.9 49.6L38.6 49.4ZM38.3 56.0L40.1 56.0L43.5 51.0L42.0 50.6L39.5 52.5ZM45.0 50.3L48.3 50.6L48.7 52.5L45.7 54.3L44.7 52.5ZM43.4 56.3L48.9 55.0L49.1 54.6L46.6 55.0ZM48.6 54.2L52.5 53.8L52.6 52.9L49.5 53.5ZM194.4 52.5L196.0 49.6L198.8 49.2L201.0 51.0L199.0 52.5L198.7 54.6L201.8 56.8L204.1 60.3L204.3 63.2L201.4 63.7L198.8 62.5L198.7 59.6L196.4 56.0L194.7 53.9Z" fill="#f5f6fa"/></svg>
</div>
<div class="abs" style="left:320px;top:226px;width:8px;height:223px;background:#ced2d9"></div>
<div class="abs" style="left:322px;top:240px;width:4px;height:80px;border-radius:2px;background:#f3f4f8"></div>
</section>
<span class="t " style="top:768.00px;font-size:20px;line-height:30px;color:#111827;font-weight:700;transform:scaleX(1.0044);left:360.60px;transform-origin:0 0;">Most Location</span>
<div class="abs" style="left:336px;top:974px;width:320px;height:223px;overflow:hidden;border-radius:0 0 0 8px">
<svg style="left:24px;top:16px" width="40" height="40" viewBox="0 0 40 40"><defs><clipPath id="fl_us"><circle cx="20" cy="20" r="20"/></clipPath></defs><g clip-path="url(#fl_us)"><rect width="40" height="40" fill="#eeeeee"/><rect x="0" y="0" width="40" height="1.700" fill="#d80027"/><rect x="0" y="9.25" width="40" height="3.700" fill="#d80027"/><rect x="0" y="15.40" width="40" height="3.700" fill="#d80027"/><rect x="0" y="21.55" width="40" height="3.700" fill="#d80027"/><rect x="0" y="27.70" width="40" height="3.700" fill="#d80027"/><rect x="0" y="33.85" width="40" height="3.700" fill="#d80027"/><rect x="0" y="40.00" width="40" height="3.700" fill="#d80027"/><rect x="0" y="0" width="20" height="20" fill="#0052b4"/><path transform="translate(8.5 4) scale(0.230)" d="M0-10l2.900 6.200 6.600.8-4.900 4.600 1.300 6.600L0 5l-5.900 3.200 1.300-6.600-4.900-4.600 6.600-.8z" fill="#eeeeee"/><path transform="translate(15.5 4) scale(0.230)" d="M0-10l2.900 6.200 6.600.8-4.900 4.600 1.300 6.600L0 5l-5.900 3.200 1.300-6.600-4.900-4.600 6.600-.8z" fill="#eeeeee"/><path transform="translate(4 9.5) scale(0.230)" d="M0-10l2.900 6.200 6.600.8-4.900 4.600 1.300 6.600L0 5l-5.900 3.200 1.300-6.600-4.900-4.600 6.600-.8z" fill="#eeeeee"/><path transform="translate(8.5 9.5) scale(0.230)" d="M0-10l2.900 6.200 6.600.8-4.900 4.600 1.300 6.600L0 5l-5.900 3.200 1.300-6.600-4.900-4.600 6.600-.8z" fill="#eeeeee"/><path transform="translate(15.5 9.5) scale(0.230)" d="M0-10l2.900 6.200 6.600.8-4.900 4.600 1.300 6.600L0 5l-5.900 3.200 1.300-6.600-4.900-4.600 6.600-.8z" fill="#eeeeee"/><path transform="translate(2 15.5) scale(0.230)" d="M0-10l2.900 6.200 6.600.8-4.900 4.600 1.300 6.600L0 5l-5.900 3.200 1.300-6.600-4.900-4.600 6.600-.8z" fill="#eeeeee"/><path transform="translate(8.5 15.5) scale(0.230)" d="M0-10l2.900 6.200 6.600.8-4.900 4.600 1.300 6.600L0 5l-5.900 3.200 1.300-6.600-4.900-4.600 6.600-.8z" fill="#eeeeee"/><path transform="translate(15.5 15.5) scale(0.230)" d="M0-10l2.900 6.200 6.600.8-4.900 4.600 1.300 6.600L0 5l-5.900 3.200 1.300-6.600-4.900-4.600 6.600-.8z" fill="#eeeeee"/></g></svg>
<span class="t " style="top:16.00px;font-size:14px;line-height:21px;color:#111827;transform:scaleX(0.9847);-webkit-text-stroke:0.3px #111827;left:74.40px;transform-origin:0 0;">USA</span>
<span class="t " style="top:37.00px;font-size:13px;line-height:20px;color:#4b5563;transform:scaleX(0.9548);left:74.40px;transform-origin:0 0;">1,240 Users</span>
<div class="abs" style="left:206px;top:32px;width:66px;height:8px;border-radius:4px;background:#dcdee3"><div style="width:54px;height:8px;border-radius:4px;background:#487fff"></div></div>
<span class="t " style="top:27.00px;font-size:12px;line-height:18px;color:#4b5563;transform:scaleX(1.0333);-webkit-text-stroke:0.45px #4b5563;left:280.50px;transform-origin:0 0;">80%</span>
<svg style="left:24px;top:74px" width="40" height="40" viewBox="0 0 40 40"><defs><clipPath id="fl_jp"><circle cx="20" cy="20" r="20"/></clipPath></defs><g clip-path="url(#fl_jp)"><rect width="40" height="40" fill="#eeeeee"/><circle cx="20" cy="20" r="8.700" fill="#d80027"/></g></svg>
<span class="t " style="top:74.00px;font-size:14px;line-height:21px;color:#111827;transform:scaleX(1.0485);-webkit-text-stroke:0.3px #111827;left:74.40px;transform-origin:0 0;">Japan</span>
<span class="t " style="top:95.00px;font-size:13px;line-height:20px;color:#4b5563;transform:scaleX(0.9548);left:74.40px;transform-origin:0 0;">1,240 Users</span>
<div class="abs" style="left:206px;top:90px;width:66px;height:8px;border-radius:4px;background:#dcdee3"><div style="width:45px;height:8px;border-radius:4px;background:#ef4a00"></div></div>
<span class="t " style="top:85.00px;font-size:12px;line-height:18px;color:#4b5563;transform:scaleX(1.0333);-webkit-text-stroke:0.45px #4b5563;left:280.50px;transform-origin:0 0;">60%</span>
<svg style="left:24px;top:132px" width="40" height="40" viewBox="0 0 40 40"><defs><clipPath id="fl_fr"><circle cx="20" cy="20" r="20"/></clipPath></defs><g clip-path="url(#fl_fr)"><rect width="40" height="40" fill="#eeeeee"/><rect width="13" height="40" fill="#0052b4"/><rect x="27" width="13" height="40" fill="#d80027"/></g></svg>
<span class="t " style="top:132.00px;font-size:14px;line-height:21px;color:#111827;transform:scaleX(1.0450);-webkit-text-stroke:0.3px #111827;left:74.40px;transform-origin:0 0;">France</span>
<span class="t " style="top:153.00px;font-size:13px;line-height:20px;color:#4b5563;transform:scaleX(0.9548);left:74.40px;transform-origin:0 0;">1,240 Users</span>
<div class="abs" style="left:206px;top:148px;width:66px;height:8px;border-radius:4px;background:#dcdee3"><div style="width:36px;height:8px;border-radius:4px;background:#ff9f29"></div></div>
<span class="t " style="top:143.00px;font-size:12px;line-height:18px;color:#4b5563;transform:scaleX(1.0333);-webkit-text-stroke:0.45px #4b5563;left:280.50px;transform-origin:0 0;">49%</span>
<svg style="left:24px;top:190px" width="40" height="40" viewBox="0 0 40 40"><defs><clipPath id="fl_de"><circle cx="20" cy="20" r="20"/></clipPath></defs><g clip-path="url(#fl_de)"><rect width="40" height="13" fill="#000"/><rect y="13" width="40" height="14" fill="#d80027"/><rect y="27" width="40" height="13" fill="#ffda44"/></g></svg>
<span class="t " style="top:190.00px;font-size:14px;line-height:21px;color:#111827;transform:scaleX(1.0428);-webkit-text-stroke:0.3px #111827;left:74.40px;transform-origin:0 0;">Germany</span>
<span class="t " style="top:211.00px;font-size:13px;line-height:20px;color:#4b5563;transform:scaleX(0.9548);left:74.40px;transform-origin:0 0;">1,240 Users</span>
<div class="abs" style="left:206px;top:206px;width:60px;height:8px;border-radius:4px;background:#dcdee3"><div style="width:60px;height:8px;border-radius:4px;background:#45b369"></div></div>
<span class="t " style="top:201.00px;font-size:12px;line-height:18px;color:#4b5563;transform:scaleX(1.0059);-webkit-text-stroke:0.45px #4b5563;left:274.40px;transform-origin:0 0;">100%</span>
</div>
<!-- portfolio -->
<section class="card" style="left:688px;top:748px;width:328px;height:449px"></section>
<span class="t " style="top:768.00px;font-size:20px;line-height:30px;color:#111827;font-weight:700;transform:scaleX(1.0087);left:712.10px;transform-origin:0 0;">My Portfolio</span>
<svg style="left:688px;top:748px" width="328" height="448" viewBox="688 748 328 448"><defs><filter id="ds" x="-30%" y="-30%" width="160%" height="160%"><feDropShadow dx="0" dy="6" stdDeviation="12" flood-color="#000" flood-opacity="0.070"/></filter><filter id="ds2" x="-50%" y="-50%" width="200%" height="200%"><feDropShadow dx="0" dy="4" stdDeviation="10" flood-color="#000" flood-opacity="0.090"/></filter></defs><g filter="url(#ds)"><path d="M847.80 831.70A103.2 103.2 0 0 1 929.78 997.58L892.29 968.91A56 56 0 0 0 847.80 878.90Z" fill="#ff9f29"/><path d="M929.78 997.58A103.2 103.2 0 1 1 847.80 831.70L847.80 878.90A56 56 0 1 0 892.29 968.91Z" fill="#2c4ced"/></g><circle cx="933.700" cy="863" r="35" fill="#fff" filter="url(#ds2)"/><circle cx="769.600" cy="985.800" r="35" fill="#fff" filter="url(#ds2)"/></svg>
<span class="t " style="top:846.00px;font-size:24px;line-height:36px;color:#111827;transform:scaleX(1.1171);-webkit-text-stroke:0.7px #111827;left:912.50px;transform-origin:0 0;">20k</span>
<span class="t " style="top:970.00px;font-size:24px;line-height:36px;color:#111827;transform:scaleX(1.1094);-webkit-text-stroke:0.7px #111827;left:747.20px;transform-origin:0 0;">50k</span>
<div class="abs" style="left:712px;top:1103px;width:16px;height:16px;border-radius:2px;background:#2c4ced"></div>
<span class="t " style="top:1099.00px;font-size:18px;line-height:27px;color:#4b5563;transform:scaleX(1.0251);left:737.20px;transform-origin:0 0;">Total Gain:</span>
<span class="t " style="top:1099.00px;font-size:18px;line-height:27px;color:#111827;transform:scaleX(1.1111);-webkit-text-stroke:0.4px #111827;left:831.70px;transform-origin:0 0;">$50,000</span>
<div class="abs" style="left:713px;top:1151px;width:16px;height:16px;border-radius:2px;background:#ff9f29"></div>
<span class="t " style="top:1147.00px;font-size:18px;line-height:27px;color:#4b5563;transform:scaleX(1.0633);left:738.00px;transform-origin:0 0;">Total Investment:</span>
<span class="t " style="top:1147.00px;font-size:18px;line-height:27px;color:#111827;transform:scaleX(1.1034);-webkit-text-stroke:0.4px #111827;left:888.80px;transform-origin:0 0;">$20,000</span>
<!-- investments -->
<section class="card" style="left:1040px;top:748px;width:856px;height:449px"></section>
<span class="t " style="top:766.00px;font-size:20px;line-height:30px;color:#111827;font-weight:700;transform:scaleX(1.0155);left:1064.50px;transform-origin:0 0;">Latest Investments</span>
<span class="t " style="top:769.00px;font-size:16px;line-height:24px;color:#487fff;transform:scaleX(1.0653);-webkit-text-stroke:0.2px #487fff;left:1792.60px;transform-origin:0 0;">View All</span>
<svg style="left:1858px;top:773px" width="12" height="14" viewBox="0 0 12 14"><path d="M4 3l4 4-4 4" fill="none" stroke="#487fff" stroke-width="1.500" stroke-linecap="round" stroke-linejoin="round"/></svg>
<div class="abs" style="left:1064px;top:814px;width:808px;height:359px;border:1px solid #e5e7eb;border-radius:8px;overflow:hidden;background:#fff">
<div class="abs" style="left:0;top:0;width:808px;height:49px;background:#f5f6fa;border-bottom:1px solid #e5e7eb"></div>
<div class="abs" style="left:0;top:110px;width:808px;height:1px;background:#e5e7eb"></div>
<div class="abs" style="left:0;top:172px;width:808px;height:1px;background:#e5e7eb"></div>
<div class="abs" style="left:0;top:234px;width:808px;height:1px;background:#e5e7eb"></div>
<div class="abs" style="left:0;top:296px;width:808px;height:1px;background:#e5e7eb"></div>
</div>
<span class="t " style="top:828.00px;font-size:16px;line-height:24px;color:#111827;transform:scaleX(1.0675);-webkit-text-stroke:0.35px #111827;left:1080.60px;transform-origin:0 0;">Asset</span>
<span class="t " style="top:828.00px;font-size:16px;line-height:24px;color:#111827;transform:scaleX(1.0856);-webkit-text-stroke:0.35px #111827;left:1302.30px;transform-origin:0 0;">Quantity</span>
<span class="t " style="top:828.00px;font-size:16px;line-height:24px;color:#111827;transform:scaleX(1.0554);-webkit-text-stroke:0.35px #111827;left:1434.30px;transform-origin:0 0;">Price</span>
<span class="t " style="top:828.00px;font-size:16px;line-height:24px;color:#111827;transform:scaleX(1.0515);-webkit-text-stroke:0.35px #111827;left:1587.30px;transform-origin:0 0;">Date</span>
<span class="t " style="top:828.00px;font-size:16px;line-height:24px;color:#111827;transform:scaleX(1.0755);-webkit-text-stroke:0.35px #111827;left:1744.40px;transform-origin:0 0;">Total Orders</span>
<div class="abs" style="left:1080px;top:875px;width:40px;height:40px;border-radius:8px;background:#fcecd6"></div>
<svg style="left:1080px;top:875px" width="40" height="40" viewBox="0 0 40 40"><path d="M22 28.3L25.8 28.3L34.2 23.9L30.5 23.9Z" fill="#fbb03b"/><path d="M25.8 28.3L27.3 33L28.9 33L35.8 27.3L34.2 23.9Z" fill="#e89a2a"/><path d="M18.9 23.3L22.7 23.3L30.5 18.9L26.7 18.9Z" fill="#fbb03b"/><path d="M22.7 23.3L23.9 28L32 22L30.5 18.9Z" fill="#e89a2a"/><path d="M13.6 19.5L18 19.5L25.5 14.2L20.5 14.2Z" fill="#fbb03b"/><path d="M18 19.5L19.2 23L27.7 17.3L25.5 14.2Z" fill="#e89a2a"/><path d="M3.6 33L27.3 33L25.8 28.3L6.1 28.3Z" fill="#d9901f"/><path d="M8.6 28.3L23.9 28.3L22.7 23.3L10.8 23.3Z" fill="#d9901f"/><path d="M3.6 33L11.4 33L9.8 28.3L6.1 28.3Z" fill="#ffc966"/><path d="M11.7 33L19.5 33L18 28.3L13.9 28.3Z" fill="#ffc966"/><path d="M19.8 33L27.3 33L25.8 28.3L22 28.3Z" fill="#ffc966"/><path d="M8.6 28L15.8 28L14.5 23.3L10.8 23.3Z" fill="#ffc966"/><path d="M16.7 28L23.9 28L22.7 23.3L18.9 23.3Z" fill="#ffc966"/><path d="M11.7 23L19.2 23L18 19.5L13.6 19.5Z" fill="#ffc966"/><path d="M6.1 28.3L9.8 28.3L9.5 27.4L6.6 27.4Z" fill="#fbb03b"/><path d="M13.9 28.3L18 28.3L17.7 27.4L14.3 27.4Z" fill="#fbb03b"/><path d="M16.4 5.999999999999999Q17.296 8.303999999999998 19.599999999999998 9.2Q17.296 10.096 16.4 12.399999999999999Q15.503999999999998 10.096 13.2 9.2Q15.503999999999998 8.303999999999998 16.4 5.999999999999999Z" fill="#fbb03b"/><path d="M33.1 10.7Q33.856 12.644 35.800000000000004 13.4Q33.856 14.156 33.1 16.1Q32.344 14.156 30.400000000000002 13.4Q32.344 12.644 33.1 10.7Z" fill="#fbb03b"/><path d="M6.7 16.7Q7.456 18.644 9.4 19.4Q7.456 20.156 6.7 22.099999999999998Q5.944 20.156 4.0 19.4Q5.944 18.644 6.7 16.7Z" fill="#fbb03b"/></svg>
<span class="t " style="top:874.00px;font-size:16px;line-height:24px;color:#111827;transform:scaleX(1.0071);-webkit-text-stroke:0.2px #111827;left:1132.40px;transform-origin:0 0;">Gold</span>
<span class="t " style="top:897.00px;font-size:14px;line-height:21px;color:#4b5563;transform:scaleX(1.0546);-webkit-text-stroke:0.15px #4b5563;left:1132.40px;transform-origin:0 0;">Main Asset</span>
<span class="t " style="top:874.00px;font-size:16px;line-height:24px;color:#111827;transform:scaleX(1.0674);-webkit-text-stroke:0.2px #111827;left:1302.30px;transform-origin:0 0;">7500</span>
<span class="t " style="top:897.00px;font-size:14px;line-height:21px;color:#4b5563;transform:scaleX(1.0263);-webkit-text-stroke:0.15px #4b5563;left:1302.30px;transform-origin:0 0;">Ounces</span>
<span class="t " style="top:884.00px;font-size:16px;line-height:24px;color:#4b5563;transform:scaleX(1.0421);-webkit-text-stroke:0.15px #4b5563;left:1434.30px;transform-origin:0 0;">$7,500.00</span>
<span class="t " style="top:884.00px;font-size:16px;line-height:24px;color:#4b5563;transform:scaleX(1.0673);-webkit-text-stroke:0.15px #4b5563;left:1587.30px;transform-origin:0 0;">25 May 2024</span>
<div class="abs" style="left:1744.500px;top:879.5px;width:105px;height:31px;border-radius:6px;background:#dcf2e4"></div>
<span class="t " style="top:885.00px;font-size:14px;line-height:21px;color:#45b369;transform:scaleX(1.0755);-webkit-text-stroke:0.35px #45b369;left:1760.60px;transform-origin:0 0;">Completed</span>
<div class="abs" style="left:1080px;top:937px;width:40px;height:40px;border-radius:8px;background:#cdfde6"></div>
<svg style="left:1080px;top:937px" width="40" height="40" viewBox="0 0 40 40"><path d="M4.5 24L35.8 21L35.8 31.7L4.8 31.4Z" fill="#4fb885"/><path d="M5.500 28.300L35 25.800M6 30L35 29" stroke="#2f9a63" stroke-width="1.400" fill="none"/><path d="M30.5 28L35.8 24.5L35.8 31.7L30.5 31.6Z" fill="#5fcf9b"/><path d="M3.3 14.5L33.6 8L36.4 21.1L6.1 27.7Z" fill="#5fcf9b"/><path d="M6.6 15.6L31.8 10.2L34.2 20L8.6 25.6Z" fill="#2f9a63"/><circle cx="19.800" cy="18" r="5" fill="#5fcf9b"/><circle cx="10.500" cy="20" r="1.200" fill="#5fcf9b"/><circle cx="29" cy="16" r="1.200" fill="#5fcf9b"/><path d="M21.300 15.600c-.6-.7-1.500-.9-2.300-.7-.9.200-1.400.9-1.200 1.600.4 1.500 3.400.2 3.800 1.900.2.800-.4 1.500-1.400 1.700-.9.200-1.800-.1-2.300-.8M19.100 14l1.600 7.500" stroke="#fff" stroke-width="1" fill="none" stroke-linecap="round" transform="rotate(-4 19.800 18)"/></svg>
<span class="t " style="top:936.00px;font-size:16px;line-height:24px;color:#111827;transform:scaleX(1.0350);-webkit-text-stroke:0.2px #111827;left:1132.40px;transform-origin:0 0;">Dollars</span>
<span class="t " style="top:959.00px;font-size:14px;line-height:21px;color:#4b5563;transform:scaleX(1.0534);-webkit-text-stroke:0.15px #4b5563;left:1132.40px;transform-origin:0 0;">Currency</span>
<span class="t " style="top:936.00px;font-size:16px;line-height:24px;color:#111827;transform:scaleX(1.0783);-webkit-text-stroke:0.2px #111827;left:1302.30px;transform-origin:0 0;">5,40,000</span>
<span class="t " style="top:959.00px;font-size:14px;line-height:21px;color:#4b5563;transform:scaleX(1.0335);-webkit-text-stroke:0.15px #4b5563;left:1302.30px;transform-origin:0 0;">Dollars</span>
<span class="t " style="top:946.00px;font-size:16px;line-height:24px;color:#4b5563;transform:scaleX(1.0766);-webkit-text-stroke:0.15px #4b5563;left:1434.30px;transform-origin:0 0;">$5,40,000.00</span>
<span class="t " style="top:946.00px;font-size:16px;line-height:24px;color:#4b5563;transform:scaleX(1.0627);-webkit-text-stroke:0.15px #4b5563;left:1587.30px;transform-origin:0 0;">25 Jan 2024</span>
<div class="abs" style="left:1744.500px;top:941.5px;width:105px;height:31px;border-radius:6px;background:#ffeedb"></div>
<span class="t " style="top:947.00px;font-size:14px;line-height:21px;color:#ff9f29;transform:scaleX(1.0473);-webkit-text-stroke:0.35px #ff9f29;left:1759.50px;transform-origin:0 0;">In Progress</span>
<div class="abs" style="left:1080px;top:999px;width:40px;height:40px;border-radius:8px;background:#fcecd6"></div>
<svg style="left:1080px;top:999px" width="40" height="40" viewBox="0 0 40 40"><rect x="10.9" y="5.9" width="8.6" height="10.8" fill="#ebb04a"/><rect x="14.2" y="6" width="1.6" height="2.6" fill="#e05a4e"/><rect x="15.8" y="13" width="13.9" height="14.0" fill="#f2cf8a"/><rect x="22" y="13" width="1.7" height="2.8" fill="#2f6a9e"/><rect x="7.2" y="17" width="8.6" height="7.8" fill="#f2cf8a"/><rect x="10.9" y="17" width="1.8" height="2.7" fill="#e05a4e"/><rect x="5" y="24.5" width="15.3" height="10.8" fill="#ebb04a"/><rect x="12" y="24.4" width="1.7" height="2.5" fill="#2f6a9e"/><rect x="20.3" y="26.9" width="14.4" height="8.4" fill="#ebb04a"/><rect x="20" y="24.5" width="0.6" height="10.8" fill="#e8a040"/><rect x="26.9" y="27" width="1.7" height="2.4" fill="#e05a4e"/></svg>
<span class="t " style="top:998.00px;font-size:16px;line-height:24px;color:#111827;transform:scaleX(1.0722);-webkit-text-stroke:0.2px #111827;left:1132.40px;transform-origin:0 0;">Stock Market</span>
<span class="t " style="top:1021.00px;font-size:14px;line-height:21px;color:#4b5563;transform:scaleX(1.0678);-webkit-text-stroke:0.15px #4b5563;left:1132.40px;transform-origin:0 0;">Product</span>
<span class="t " style="top:998.00px;font-size:16px;line-height:24px;color:#111827;transform:scaleX(1.0281);-webkit-text-stroke:0.2px #111827;left:1302.30px;transform-origin:0 0;">1500</span>
<span class="t " style="top:1021.00px;font-size:14px;line-height:21px;color:#4b5563;transform:scaleX(1.0574);-webkit-text-stroke:0.15px #4b5563;left:1302.30px;transform-origin:0 0;">Products</span>
<span class="t " style="top:1008.00px;font-size:16px;line-height:24px;color:#4b5563;transform:scaleX(1.0764);-webkit-text-stroke:0.15px #4b5563;left:1434.30px;transform-origin:0 0;">$50,000.00</span>
<span class="t " style="top:1008.00px;font-size:16px;line-height:24px;color:#4b5563;transform:scaleX(1.0530);-webkit-text-stroke:0.15px #4b5563;left:1587.30px;transform-origin:0 0;">25 Feb 2024</span>
<div class="abs" style="left:1744.500px;top:1003.5px;width:105px;height:31px;border-radius:6px;background:#dcf2e4"></div>
<span class="t " style="top:1009.00px;font-size:14px;line-height:21px;color:#45b369;transform:scaleX(1.0755);-webkit-text-stroke:0.35px #45b369;left:1760.60px;transform-origin:0 0;">Completed</span>
<div class="abs" style="left:1080px;top:1061px;width:40px;height:40px;border-radius:8px;background:#dff1ff"></div>
<svg style="left:1080px;top:1061px" width="40" height="40" viewBox="0 0 40 40"><path d="M10.200 11.100H29.200L33.600 15.500 19.800 34.200 5.900 15.500Z" fill="#e4f4ff"/><path d="M10.200 11.100H19.800L15.200 15.300ZM19.800 11.100H29.200L24.400 15.300ZM5.900 15.500L15.200 15.300 19.800 34.200ZM33.600 15.500L24.400 15.300 19.800 34.200Z" fill="#8fd0ff"/><path d="M10.200 11.100H29.200L33.600 15.500 19.800 34.200 5.900 15.500ZM5.900 15.400H33.600M10.200 11.100L15.200 15.300 19.800 11.100 24.400 15.300 29.200 11.100M15.200 15.300L19.800 34.200 24.400 15.300" fill="none" stroke="#3d82f7" stroke-width="1.300" stroke-linejoin="round"/></svg>
<span class="t " style="top:1060.00px;font-size:16px;line-height:24px;color:#111827;transform:scaleX(1.0432);-webkit-text-stroke:0.2px #111827;left:1132.40px;transform-origin:0 0;">Dimond</span>
<span class="t " style="top:1083.00px;font-size:14px;line-height:21px;color:#4b5563;transform:scaleX(1.0571);-webkit-text-stroke:0.15px #4b5563;left:1132.40px;transform-origin:0 0;">Asset</span>
<span class="t " style="top:1060.00px;font-size:16px;line-height:24px;color:#111827;transform:scaleX(1.0928);-webkit-text-stroke:0.2px #111827;left:1302.30px;transform-origin:0 0;">350</span>
<span class="t " style="top:1083.00px;font-size:14px;line-height:21px;color:#4b5563;transform:scaleX(1.0263);-webkit-text-stroke:0.15px #4b5563;left:1302.30px;transform-origin:0 0;">Ounces</span>
<span class="t " style="top:1070.00px;font-size:16px;line-height:24px;color:#4b5563;transform:scaleX(1.0889);-webkit-text-stroke:0.15px #4b5563;left:1434.30px;transform-origin:0 0;">$30,000.00</span>
<span class="t " style="top:1070.00px;font-size:16px;line-height:24px;color:#4b5563;transform:scaleX(1.0673);-webkit-text-stroke:0.15px #4b5563;left:1587.30px;transform-origin:0 0;">25 May 2024</span>
<div class="abs" style="left:1744.500px;top:1065.5px;width:105px;height:31px;border-radius:6px;background:#ffeedb"></div>
<span class="t " style="top:1071.00px;font-size:14px;line-height:21px;color:#ff9f29;transform:scaleX(1.0473);-webkit-text-stroke:0.35px #ff9f29;left:1759.50px;transform-origin:0 0;">In Progress</span>
<div class="abs" style="left:1080px;top:1123px;width:40px;height:40px;border-radius:8px;background:#efe0ff"></div>
<span class="t " style="top:1133.00px;font-size:14px;line-height:21px;color:#7a17e6;font-weight:700;transform:scaleX(1.0494);left:1084.50px;transform-origin:0 0;">R&amp;P</span>
<span class="t " style="top:1122.00px;font-size:16px;line-height:24px;color:#111827;transform:scaleX(1.0242);-webkit-text-stroke:0.2px #111827;left:1132.40px;transform-origin:0 0;">S&amp;P 500</span>
<span class="t " style="top:1145.00px;font-size:14px;line-height:21px;color:#4b5563;transform:scaleX(1.0429);-webkit-text-stroke:0.15px #4b5563;left:1132.40px;transform-origin:0 0;">Index</span>
<span class="t " style="top:1122.00px;font-size:16px;line-height:24px;color:#111827;transform:scaleX(1.0805);-webkit-text-stroke:0.2px #111827;left:1302.30px;transform-origin:0 0;">24,000</span>
<span class="t " style="top:1145.00px;font-size:14px;line-height:21px;color:#4b5563;transform:scaleX(1.0140);-webkit-text-stroke:0.15px #4b5563;left:1302.30px;transform-origin:0 0;">Shares</span>
<span class="t " style="top:1132.00px;font-size:16px;line-height:24px;color:#4b5563;transform:scaleX(1.0889);-webkit-text-stroke:0.15px #4b5563;left:1434.30px;transform-origin:0 0;">$63,000.00</span>
<span class="t " style="top:1132.00px;font-size:16px;line-height:24px;color:#4b5563;transform:scaleX(1.0627);-webkit-text-stroke:0.15px #4b5563;left:1587.30px;transform-origin:0 0;">25 Jan 2024</span>
<div class="abs" style="left:1744.500px;top:1127.5px;width:105px;height:31px;border-radius:6px;background:#dcf2e4"></div>
<span class="t " style="top:1133.00px;font-size:14px;line-height:21px;color:#45b369;transform:scaleX(1.0755);-webkit-text-stroke:0.35px #45b369;left:1760.60px;transform-origin:0 0;">Completed</span>
<!-- notice -->
<section class="card" style="left:336px;top:1221px;width:504px;height:460px"></section>
<span class="t " style="top:1245.00px;font-size:20px;line-height:30px;color:#111827;font-weight:700;transform:scaleX(1.0115);left:360.30px;transform-origin:0 0;">Notice board</span>
<span class="t " style="top:1249.00px;font-size:16px;line-height:24px;color:#487fff;transform:scaleX(1.0653);-webkit-text-stroke:0.2px #487fff;left:736.10px;transform-origin:0 0;">View All</span>
<svg style="left:802px;top:1253px" width="12" height="14" viewBox="0 0 12 14"><path d="M4 3l4 4-4 4" fill="none" stroke="#487fff" stroke-width="1.500" stroke-linecap="round" stroke-linejoin="round"/></svg>
<svg style="left:360px;top:1297px" width="40" height="40" viewBox="0 0 40 40"><defs><clipPath id="av_1"><circle cx="20" cy="20" r="20"/></clipPath></defs><g clip-path="url(#av_1)"><rect width="40" height="40" fill="#d6ebe6"/><path d="M3 40c0-8 5-12 12-13l5 4 5-4c7 1 12 5 12 13z" fill="#27305e"/><path d="M16.500 27.500l3.500 9 3.500-9-3.500-2z" fill="#dfe6ee"/><rect x="17.300" y="21" width="5.400" height="6.500" rx="2" fill="#d99a72"/><ellipse cx="20" cy="15.500" rx="5.600" ry="6.800" fill="#e8aa80"/><path d="M14.400 17c0 5 2.500 7.600 5.600 7.600s5.600-2.600 5.600-7.600c-1.500 2.400-3.500 3-5.600 3s-4.100-.6-5.600-3z" fill="#3a2a24"/><path d="M14 14c-.5-5 2-8.500 6.500-8.500 4 0 6 3 5.500 8.500-1-2.500-2.500-4-6-4s-5 1.500-6 4z" fill="#2c211d"/></g></svg>
<span class="t " style="top:1298.00px;font-size:16px;line-height:24px;color:#111827;font-weight:700;transform:scaleX(0.9847);left:408.40px;transform-origin:0 0;">Admin</span>
<span class="t " style="top:1325.00px;font-size:14px;line-height:21px;color:#4b5563;transform:scaleX(1.0795);-webkit-text-stroke:0.15px #4b5563;left:408.40px;transform-origin:0 0;">Lorem Ipsum is simply dummy text of the printing and</span>
<span class="t " style="top:1345.00px;font-size:14px;line-height:21px;color:#4b5563;transform:scaleX(1.1208);-webkit-text-stroke:0.15px #4b5563;left:408.40px;transform-origin:0 0;">typesetting industry.</span>
<span class="t " style="top:1369.00px;font-size:14px;line-height:21px;color:#4b5563;transform:scaleX(1.0666);-webkit-text-stroke:0.15px #4b5563;left:408.40px;transform-origin:0 0;">25 Jan 2024</span>
<svg style="left:360px;top:1409px" width="40" height="40" viewBox="0 0 40 40"><defs><clipPath id="av_2"><circle cx="20" cy="20" r="20"/></clipPath></defs><g clip-path="url(#av_2)"><defs><radialGradient id="avg2" cx="0.5" cy="0.45" r="0.6"><stop offset="0" stop-color="#d9cfcf"/><stop offset="1" stop-color="#bfaeb0"/></radialGradient></defs><rect width="40" height="40" fill="url(#avg2)"/><path d="M11.500 29.500C12.500 22 12 14 13 9.500 14.200 4.500 17 2.600 20.700 2.600S27.300 4.500 28.500 9.500C29.500 14 29 22 30.200 29.500Z" fill="#18151a"/><path d="M3 40C3.500 32.500 8 29.500 15 27.800L20.600 31 26.500 27.800C33.500 29.500 37.500 32.500 38 40Z" fill="#141c24"/><path d="M16.800 27.200L20.600 40 24.800 27.200 20.800 25Z" fill="#ece6e3"/><path d="M18 21h5.600v5.500L20.800 29 18 26.500Z" fill="#e0b9a6"/><ellipse cx="20.800" cy="15.200" rx="6.100" ry="8" fill="#efd0c0"/><path d="M14.500 15C14.500 8.500 17 5.600 20.800 5.600S27.100 8.500 27.100 15C26 10.500 23.500 8.600 20.800 7.200 18.100 8.600 15.600 10.500 14.500 15Z" fill="#18151a"/><path d="M17 13.600h2.600M22.200 13.600h2.600" stroke="#3b2b2b" stroke-width=".7" fill="none"/><path d="M19.200 19.700Q20.800 20.700 22.400 19.700Q20.800 21 19.200 19.700Z" fill="#c2413f" stroke="#c2413f" stroke-width=".5"/></g></svg>
<span class="t " style="top:1410.00px;font-size:16px;line-height:24px;color:#111827;font-weight:700;transform:scaleX(1.0103);left:408.40px;transform-origin:0 0;">Kathryn Murphy</span>
<span class="t " style="top:1437.00px;font-size:14px;line-height:21px;color:#4b5563;transform:scaleX(1.0795);-webkit-text-stroke:0.15px #4b5563;left:408.40px;transform-origin:0 0;">Lorem Ipsum is simply dummy text of the printing and</span>
<span class="t " style="top:1457.00px;font-size:14px;line-height:21px;color:#4b5563;transform:scaleX(1.0896);-webkit-text-stroke:0.15px #4b5563;left:408.40px;transform-origin:0 0;">typesetting industry. Lorem Ipsum is simply dummy text of</span>
<span class="t " style="top:1477.00px;font-size:14px;line-height:21px;color:#4b5563;transform:scaleX(1.1069);-webkit-text-stroke:0.15px #4b5563;left:408.40px;transform-origin:0 0;">the printing and typesetting industry.</span>
<span class="t " style="top:1501.00px;font-size:14px;line-height:21px;color:#4b5563;transform:scaleX(1.0666);-webkit-text-stroke:0.15px #4b5563;left:408.40px;transform-origin:0 0;">25 Jan 2024</span>
<svg style="left:360px;top:1541px" width="40" height="40" viewBox="0 0 40 40"><defs><clipPath id="av_3"><circle cx="20" cy="20" r="20"/></clipPath></defs><g clip-path="url(#av_3)"><rect width="40" height="40" fill="#dde3e7"/><path d="M4 40C5 34.500 9 32 14.500 30.800L20 33 25.500 30.800C31 32 35 34.500 36 40Z" fill="#1d3868"/><path d="M14.500 30.800L20 37.500 25.500 30.800 23 27.500H17Z" fill="#efc3a6"/><ellipse cx="19.800" cy="21" rx="6.800" ry="8.300" fill="#f4d0b8"/><path d="M9 22C7.500 11 12 2 21.500 1.500 28.500 1.200 32.500 7 31 17 30.500 19 30 21 29.500 22 29 17.500 27.500 14 25.500 11.500 22 14.500 16 16 13.500 18.500 12.500 20 12.500 22.500 12.300 24.500 10.500 24.500 9.300 23.500 9 22Z" fill="#e3d4b2"/><path d="M21 3C25 4 27.500 7 28 11 26 8 23 5.500 19 5Z" fill="#c9b792"/><path d="M16.300 19.300h2.400M21.700 19.300h2.400" stroke="#5a4636" stroke-width=".7" fill="none"/><path d="M16.700 24Q19.800 27.200 23 24Q19.800 25.200 16.700 24Z" fill="#fff" stroke="#c4685c" stroke-width=".6"/></g></svg>
<span class="t " style="top:1542.00px;font-size:16px;line-height:24px;color:#111827;font-weight:700;left:408.40px;transform-origin:0 0;">Cameron Williamson</span>
<span class="t " style="top:1569.00px;font-size:14px;line-height:21px;color:#4b5563;transform:scaleX(1.0767);-webkit-text-stroke:0.15px #4b5563;left:408.40px;transform-origin:0 0;">Lorem Ipsum is simply dummy text of the printing Lorem</span>
<span class="t " style="top:1589.00px;font-size:14px;line-height:21px;color:#4b5563;transform:scaleX(1.0909);-webkit-text-stroke:0.15px #4b5563;left:408.40px;transform-origin:0 0;">Ipsum is simply dummy text of the printing and typesetting</span>
<span class="t " style="top:1609.00px;font-size:14px;line-height:21px;color:#4b5563;transform:scaleX(1.1143);-webkit-text-stroke:0.15px #4b5563;left:408.40px;transform-origin:0 0;">industry.</span>
<span class="t " style="top:1633.00px;font-size:14px;line-height:21px;color:#4b5563;transform:scaleX(1.0666);-webkit-text-stroke:0.15px #4b5563;left:408.40px;transform-origin:0 0;">25 Jan 2024</span>
<!-- transactions -->
<section class="card" style="left:864px;top:1221px;width:504px;height:460px"></section>
<span class="t " style="top:1246.00px;font-size:20px;line-height:30px;color:#111827;font-weight:700;transform:scaleX(1.0160);left:888.50px;transform-origin:0 0;">Total Transactions</span>
<div class="abs" style="left:1220px;top:1245px;width:124px;height:32px;border:1px solid #d1d5db;border-radius:4px;background:#fff"></div>
<span class="t " style="top:1251.00px;font-size:14px;line-height:21px;color:#4b5563;transform:scaleX(1.0403);-webkit-text-stroke:0.25px #4b5563;left:1234.50px;transform-origin:0 0;">This Week</span>
<svg style="left:1316.3px;top:1253.0px" width="16" height="16" viewBox="0 0 16 16"><path d="M2 5.200l6 5.600 6-5.600" fill="none" stroke="#374151" stroke-width="2.100" stroke-linecap="round" stroke-linejoin="round"/></svg>
<div class="abs" style="left:888px;top:1299px;width:16px;height:16px;border-radius:3px;background:#487fff"></div>
<span class="t " style="top:1295.00px;font-size:18px;line-height:27px;color:#4b5563;transform:scaleX(1.0984);-webkit-text-stroke:0.4px #4b5563;left:910.70px;transform-origin:0 0;">Total Transaction:</span>
<span class="t " style="top:1295.00px;font-size:18px;line-height:27px;color:#111827;transform:scaleX(1.1355);-webkit-text-stroke:0.5px #111827;left:1071.20px;transform-origin:0 0;">$20,000.00</span>
<svg style="left:864px;top:1220px" width="504" height="460" viewBox="864 1220 504 460"><defs><linearGradient id="tb" x1="0" y1="0" x2="0" y2="1"><stop offset="0" stop-color="#487fff" stop-opacity="0.400"/><stop offset="1" stop-color="#487fff" stop-opacity="0.100"/></linearGradient><filter id="lsh" x="-10%" y="-20%" width="120%" height="150%"><feDropShadow dx="0" dy="5" stdDeviation="3" flood-color="#000" flood-opacity="0.120"/></filter><filter id="tsh" x="-30%" y="-50%" width="160%" height="220%"><feDropShadow dx="0" dy="4" stdDeviation="8" flood-color="#1f2937" flood-opacity="0.140"/></filter></defs><path d="M953 1361H1345" stroke="#d9dce2" stroke-width="1.400" stroke-dasharray="1.400 5.600" fill="none"/><path d="M945 1413H1345" stroke="#d9dce2" stroke-width="1.400" stroke-dasharray="1.400 5.600" fill="none"/><path d="M945 1465H1345" stroke="#d9dce2" stroke-width="1.400" stroke-dasharray="1.400 5.600" fill="none"/><path d="M945 1517H1345" stroke="#d9dce2" stroke-width="1.400" stroke-dasharray="1.400 5.600" fill="none"/><path d="M945 1569H1345" stroke="#d9dce2" stroke-width="1.400" stroke-dasharray="1.400 5.600" fill="none"/><path d="M945 1621H1345" stroke="#d9dce2" stroke-width="1.400" stroke-dasharray="1.400 5.600" fill="none"/><path d="M1197 1444h20v166.700a10 10 0 0 1-20 0z" fill="url(#tb)"/><path d="M946 1616.100C956 1582 968 1539.800 988 1539.800C998.6 1539.8 1000.9 1545.0 1011.5 1545.0C1032.0 1545.0 1030.5 1483.2 1051.0 1483.2C1069.5 1483.2 1073.5 1496.9 1092.0 1496.9C1113.4 1496.9 1098.0 1429.2 1119.4 1429.2C1141.4 1429.2 1135.4 1505.0 1157.4 1505.0C1178.4 1505.0 1178.4 1444.2 1199.4 1444.2C1218.3 1444.2 1216.9 1525.3 1235.8 1525.3C1253.4 1525.3 1253.4 1478.3 1271.0 1478.3C1289.2 1478.3 1289.2 1537.7 1307.3 1537.7C1321 1537.700 1332 1516 1341.400 1496.500" fill="none" stroke="#487fff" stroke-width="3" stroke-linecap="round" stroke-linejoin="round" filter="url(#lsh)"/><circle cx="1207" cy="1451" r="5" fill="#fff" stroke="#487fff" stroke-width="2.400"/><rect x="1140.500" y="1383.500" width="155" height="59" rx="7" fill="#fff" filter="url(#tsh)"/><circle cx="1157.300" cy="1425.200" r="5" fill="#487fff"/></svg>
<span class="t " style="top:1352.00px;font-size:12px;line-height:18px;color:#4b5563;transform:scaleX(1.0548);-webkit-text-stroke:0.2px #4b5563;left:888.20px;transform-origin:0 0;">1,00,000</span>
<span class="t " style="top:1404.00px;font-size:12px;line-height:18px;color:#4b5563;transform:scaleX(1.1029);-webkit-text-stroke:0.2px #4b5563;left:889.10px;transform-origin:0 0;">50,000</span>
<span class="t " style="top:1456.00px;font-size:12px;line-height:18px;color:#4b5563;transform:scaleX(1.1029);-webkit-text-stroke:0.2px #4b5563;left:889.10px;transform-origin:0 0;">30,000</span>
<span class="t " style="top:1508.00px;font-size:12px;line-height:18px;color:#4b5563;transform:scaleX(1.1029);-webkit-text-stroke:0.2px #4b5563;left:889.10px;transform-origin:0 0;">20,000</span>
<span class="t " style="top:1560.00px;font-size:12px;line-height:18px;color:#4b5563;transform:scaleX(1.0621);-webkit-text-stroke:0.2px #4b5563;left:890.60px;transform-origin:0 0;">10,000</span>
<span class="t " style="top:1612.00px;font-size:12px;line-height:18px;color:#4b5563;transform:scaleX(1.0961);-webkit-text-stroke:0.2px #4b5563;left:922.30px;transform-origin:0 0;">0</span>
<span class="t " style="top:1639.00px;font-size:12px;line-height:18px;color:#4b5563;transform:scaleX(1.0711);-webkit-text-stroke:0.2px #4b5563;left:947.10px;transform-origin:0 0;">Mon</span>
<span class="t " style="top:1639.00px;font-size:12px;line-height:18px;color:#4b5563;transform:scaleX(1.0297);-webkit-text-stroke:0.2px #4b5563;left:1008.40px;transform-origin:0 0;">Tues</span>
<span class="t " style="top:1639.00px;font-size:12px;line-height:18px;color:#4b5563;transform:scaleX(1.0417);-webkit-text-stroke:0.2px #4b5563;left:1070.45px;transform-origin:0 0;">Wed</span>
<span class="t " style="top:1639.00px;font-size:12px;line-height:18px;color:#4b5563;transform:scaleX(1.0763);-webkit-text-stroke:0.2px #4b5563;left:1128.00px;transform-origin:0 0;">Thurs</span>
<span class="t " style="top:1639.00px;font-size:12px;line-height:18px;color:#111827;transform:scaleX(1.0372);-webkit-text-stroke:0.45px #111827;left:1199.15px;transform-origin:0 0;">Fri</span>
<span class="t " style="top:1639.00px;font-size:12px;line-height:18px;color:#4b5563;transform:scaleX(1.0278);-webkit-text-stroke:0.2px #4b5563;left:1258.15px;transform-origin:0 0;">Sat</span>
<span class="t " style="top:1639.00px;font-size:12px;line-height:18px;color:#4b5563;transform:scaleX(1.0300);-webkit-text-stroke:0.2px #4b5563;left:1319.00px;transform-origin:0 0;">Sun</span>
<span class="t " style="top:1391.00px;font-size:14px;line-height:21px;color:#111827;transform:scaleX(1.0860);-webkit-text-stroke:0.2px #111827;left:1152.40px;transform-origin:0 0;">05 Jun 2024</span>
<span class="t " style="top:1415.00px;font-size:14px;line-height:21px;color:#4b5563;transform:scaleX(1.0444);-webkit-text-stroke:0.15px #4b5563;left:1168.50px;transform-origin:0 0;">Transaction :</span>
<span class="t " style="top:1415.00px;font-size:14px;line-height:21px;color:#111827;transform:scaleX(1.1146);-webkit-text-stroke:0.1px #111827;left:1258.30px;transform-origin:0 0;">$3k</span>
<!-- project -->
<section class="card" style="left:1392px;top:1221px;width:504px;height:460px"></section>
<span class="t " style="top:1249.00px;font-size:18px;line-height:27px;color:#111827;font-weight:700;transform:scaleX(1.0054);left:1416.30px;transform-origin:0 0;">Project Status</span>
<div class="abs" style="left:1742px;top:1245px;width:130px;height:32px;border:1px solid #d1d5db;border-radius:4px;background:#fff"></div>
<span class="t " style="top:1251.00px;font-size:14px;line-height:21px;color:#4b5563;transform:scaleX(1.0732);-webkit-text-stroke:0.25px #4b5563;left:1756.60px;transform-origin:0 0;">This Month</span>
<svg style="left:1844.2px;top:1253.0px" width="16" height="16" viewBox="0 0 16 16"><path d="M2 5.200l6 5.600 6-5.600" fill="none" stroke="#374151" stroke-width="2.100" stroke-linecap="round" stroke-linejoin="round"/></svg>
<div class="abs" style="left:1416px;top:1297px;width:456px;height:360px;border:1px solid #e5e7eb;border-radius:8px;overflow:hidden;background:#fff">
<div class="abs" style="left:0;top:0;width:456px;height:49px;background:#f5f6fa;border-bottom:1px solid #e5e7eb"></div>
<div class="abs" style="left:0;top:110px;width:456px;height:1px;background:#e5e7eb"></div>
<div class="abs" style="left:0;top:172px;width:456px;height:1px;background:#e5e7eb"></div>
<div class="abs" style="left:0;top:234px;width:456px;height:1px;background:#e5e7eb"></div>
<div class="abs" style="left:0;top:296px;width:456px;height:1px;background:#e5e7eb"></div>
</div>
<span class="t " style="top:1311.00px;font-size:16px;line-height:24px;color:#111827;transform:scaleX(1.0300);-webkit-text-stroke:0.35px #111827;left:1432.40px;transform-origin:0 0;">Name</span>
<span class="t " style="top:1311.00px;font-size:16px;line-height:24px;color:#111827;transform:scaleX(1.0665);-webkit-text-stroke:0.35px #111827;left:1608.40px;transform-origin:0 0;">Duration</span>
<span class="t " style="top:1311.00px;font-size:16px;line-height:24px;color:#111827;transform:scaleX(1.0729);-webkit-text-stroke:0.35px #111827;left:1750.30px;transform-origin:0 0;">Stock</span>
<span class="t " style="top:1367.00px;font-size:16px;line-height:24px;color:#4b5563;transform:scaleX(1.0130);-webkit-text-stroke:0.15px #4b5563;left:1432.40px;transform-origin:0 0;">Gold</span>
<span class="t " style="top:1367.00px;font-size:16px;line-height:24px;color:#4b5563;transform:scaleX(1.0662);-webkit-text-stroke:0.15px #4b5563;left:1608.40px;transform-origin:0 0;">2 Months</span>
<div class="abs" style="left:1750.300px;top:1360.0px;width:111.500px;height:8px;border-radius:4px;background:#dcdee3"><div style="width:38.5px;height:8px;border-radius:4px;background:#ef4a00"></div></div>
<span class="t " style="top:1376.00px;font-size:14px;line-height:21px;color:#4b5563;transform:scaleX(1.0250);-webkit-text-stroke:0.3px #4b5563;left:1750.30px;transform-origin:0 0;">30%</span>
<span class="t " style="top:1429.00px;font-size:16px;line-height:24px;color:#4b5563;transform:scaleX(1.0229);-webkit-text-stroke:0.15px #4b5563;left:1432.40px;transform-origin:0 0;">Dollars</span>
<span class="t " style="top:1429.00px;font-size:16px;line-height:24px;color:#4b5563;transform:scaleX(1.0753);-webkit-text-stroke:0.15px #4b5563;left:1608.40px;transform-origin:0 0;">3 Months</span>
<div class="abs" style="left:1750.300px;top:1422.0px;width:111.500px;height:8px;border-radius:4px;background:#dcdee3"><div style="width:68.6px;height:8px;border-radius:4px;background:#ff9f29"></div></div>
<span class="t " style="top:1438.00px;font-size:14px;line-height:21px;color:#4b5563;transform:scaleX(1.0250);-webkit-text-stroke:0.3px #4b5563;left:1750.30px;transform-origin:0 0;">50%</span>
<span class="t " style="top:1491.00px;font-size:16px;line-height:24px;color:#4b5563;transform:scaleX(1.0658);-webkit-text-stroke:0.15px #4b5563;left:1432.40px;transform-origin:0 0;">Stock Market</span>
<span class="t " style="top:1491.00px;font-size:16px;line-height:24px;color:#4b5563;transform:scaleX(1.0313);-webkit-text-stroke:0.15px #4b5563;left:1608.40px;transform-origin:0 0;">1 Months</span>
<div class="abs" style="left:1750.300px;top:1484.0px;width:111.500px;height:8px;border-radius:4px;background:#dcdee3"><div style="width:79.6px;height:8px;border-radius:4px;background:#144bd6"></div></div>
<span class="t " style="top:1500.00px;font-size:14px;line-height:21px;color:#4b5563;transform:scaleX(1.0250);-webkit-text-stroke:0.3px #4b5563;left:1750.30px;transform-origin:0 0;">60%</span>
<span class="t " style="top:1553.00px;font-size:16px;line-height:24px;color:#4b5563;transform:scaleX(1.0377);-webkit-text-stroke:0.15px #4b5563;left:1432.40px;transform-origin:0 0;">Dimond</span>
<span class="t " style="top:1553.00px;font-size:16px;line-height:24px;color:#4b5563;transform:scaleX(1.0647);-webkit-text-stroke:0.15px #4b5563;left:1608.40px;transform-origin:0 0;">5 Months</span>
<div class="abs" style="left:1750.300px;top:1546.0px;width:111.500px;height:8px;border-radius:4px;background:#dcdee3"><div style="width:100.5px;height:8px;border-radius:4px;background:#45b369"></div></div>
<span class="t " style="top:1562.00px;font-size:14px;line-height:21px;color:#4b5563;transform:scaleX(1.0250);-webkit-text-stroke:0.3px #4b5563;left:1750.30px;transform-origin:0 0;">80%</span>
<span class="t " style="top:1615.00px;font-size:16px;line-height:24px;color:#4b5563;transform:scaleX(1.0146);-webkit-text-stroke:0.15px #4b5563;left:1432.40px;transform-origin:0 0;">S&amp;P 500</span>
<span class="t " style="top:1615.00px;font-size:16px;line-height:24px;color:#4b5563;transform:scaleX(1.0753);-webkit-text-stroke:0.15px #4b5563;left:1608.40px;transform-origin:0 0;">4 Months</span>
<div class="abs" style="left:1750.300px;top:1608.0px;width:111.500px;height:8px;border-radius:4px;background:#dcdee3"><div style="width:98.6px;height:8px;border-radius:4px;background:#ef4a00"></div></div>
<span class="t " style="top:1624.00px;font-size:14px;line-height:21px;color:#4b5563;transform:scaleX(1.0250);-webkit-text-stroke:0.3px #4b5563;left:1750.30px;transform-origin:0 0;">30%</span>
<!-- footer -->
<footer class="abs" style="left:312px;top:1705px;width:1608px;height:64px;background:#fff"></footer>
<span class="t " style="top:1727.00px;font-size:14px;line-height:21px;color:#4b5563;transform:scaleX(1.0507);-webkit-text-stroke:0.15px #4b5563;left:337.00px;transform-origin:0 0;">© 2024 Company Name. All Rights Reserved.</span>
<span class="t " style="top:1727.00px;font-size:14px;line-height:21px;color:#4b5563;transform:scaleX(1.0617);-webkit-text-stroke:0.15px #4b5563;left:1729.20px;transform-origin:0 0;">Made by</span>
<span class="t " style="top:1727.00px;font-size:14px;line-height:21px;color:#487fff;transform:scaleX(1.0400);-webkit-text-stroke:0.15px #487fff;left:1790.60px;transform-origin:0 0;">Company Name</span>
</body></html>
